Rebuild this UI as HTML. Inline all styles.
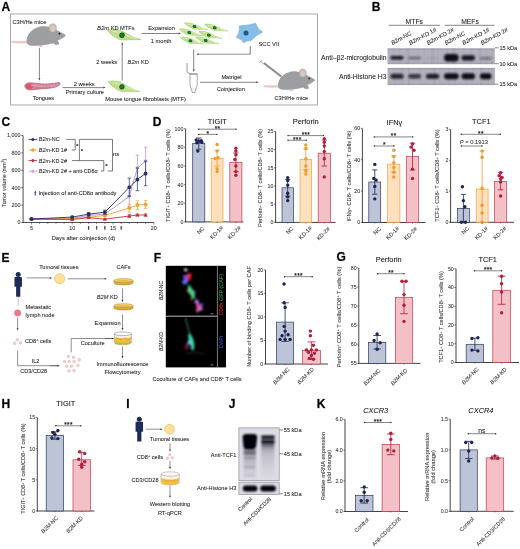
<!DOCTYPE html>
<html><head><meta charset="utf-8"><title>Figure</title>
<style>
html,body{margin:0;padding:0;background:#fff;}
body{width:520px;height:549px;overflow:hidden;}
svg{display:block;font-family:"Liberation Sans", Arial, sans-serif;}
text{stroke:currentColor;stroke-width:0.14px;stroke-opacity:0.45;}
</style></head>
<body>
<svg width="520" height="549" viewBox="0 0 520 549">
<rect width="520" height="549" fill="#fff"/>
<text x="1.5" y="10.5" font-size="12" font-weight="bold" fill="#000" color="#000" style="stroke-width:0.35px;stroke-opacity:0.6">A</text>
<rect x="10.5" y="14.0" width="307.0" height="91.0" fill="none" stroke="#aaa" stroke-width="1.0"/>
<g transform="translate(44.5 36.2) scale(1.08)"><path d="M-15,6.2 C-22,6.6 -28,6.4 -30.5,5.6 C-31,4.9 -30,4.4 -28.5,4.6 C-24,5 -19,5 -15,4.2 Z" fill="#f0d2cf" stroke="#dcb4b0" stroke-width="0.5"/><path d="M-16,6.5 C-18,-3 -8,-9.5 0,-9 C6,-8.7 10,-6 13,-4.5 C16,-3 18.5,-1.8 19.6,-0.8 C18.5,1 15,2.5 12,4 L13.5,7.3 L10.5,8 L8,6.3 C2,8 -6,9 -12,8.5 C-14,8.3 -15.5,7.5 -16,6.5 Z" fill="#9c9ea2" stroke="#8c8e92" stroke-width="0.4"/><path d="M-6,8.6 L-4.5,10 L-1.5,9.6 L-2.5,8.4 Z" fill="#d9bdb6"/><ellipse cx="7.6" cy="-7.6" rx="3.5" ry="4" fill="#c9bcb6" stroke="#aaa0a0" stroke-width="0.4"/><ellipse cx="7.8" cy="-7.2" rx="2" ry="2.6" fill="#d8cac4"/><circle cx="13.9" cy="-2.3" r="0.9" fill="#222"/></g>
<text x="12.5" y="23.8" font-size="5.7" fill="#222" color="#222">C3H/He mice</text>
<line x1="39.4" y1="48.0" x2="39.4" y2="78.3" stroke="#333" stroke-width="0.6"/>
<polygon points="39.4,80.5 38.4,78.3 40.4,78.3" fill="#333"/>
<path d="M24.8,86.3 C24.6,83.4 27.5,82.7 31,82.8 C35,82.9 38,83.6 42,83.9 C48,84.2 54,83.6 58,82.6 C59.8,82.2 60.6,83.0 59.8,84.3 C58,87.0 53,88.0 47,88.4 C41,88.8 36,89.3 32,89.9 C28,90.4 25,88.8 24.8,86.3 Z" fill="#d68a9d" stroke="#b24a66" stroke-width="0.6"/>
<ellipse cx="29.2" cy="86.4" rx="3.5" ry="2.6" fill="#d83a58" opacity="0.65"/>
<path d="M31,85.6 C36,85.4 40,86.2 45,86.3 C50,86.4 54,85.6 57.5,84.3" fill="none" stroke="#f2d0d8" stroke-width="0.8" stroke-dasharray="2,1.2" opacity="0.8"/>
<path d="M33,87.8 C38,87.6 44,87.4 50,86.9" fill="none" stroke="#c05a74" stroke-width="0.5" opacity="0.6"/>
<text x="43.4" y="99.7" font-size="5.7" text-anchor="middle" fill="#222" color="#222">Tongues</text>
<line x1="62.4" y1="87.6" x2="103.3" y2="87.6" stroke="#333" stroke-width="0.6"/>
<polygon points="105.5,87.6 103.3,88.6 103.3,86.6" fill="#333"/>
<text x="84.2" y="85.5" font-size="5.7" text-anchor="middle" fill="#222" color="#222">2 weeks</text>
<text x="84.9" y="94.3" font-size="5.7" text-anchor="middle" fill="#222" color="#222">Primary culture</text>
<g transform="translate(121.9 86.9) rotate(12) scale(1.0 1.0)"><path d="M-14.5,-2.2 C-11,-4.2 -5,-5.2 0,-3.6 C4,-2.6 7,-1.2 11,-0.2 C13.5,0.3 16,0.6 18.5,0.8 C15,1.8 11,2.2 7,3 C3,4.4 -1,5 -4,3.6 C-8,2.2 -11,0.6 -14.5,-2.2 Z" fill="#bde08c" stroke="#9ccc6a" stroke-width="0.6"/><path d="M-10,-1.5 C-6,-2.8 -1,-2.8 3,-1.2 C7,0 11,0.5 15,0.8" fill="none" stroke="#e0ecb0" stroke-width="1.2" opacity="0.8"/><circle cx="0" cy="0" r="2.6" fill="#10501c"/><circle cx="0" cy="0" r="1.9" fill="#1b7a2e"/></g>
<text x="105.3" y="101.0" font-size="5.7" fill="#222" color="#222">Mouse tongue fibroblasts (MTF)</text>
<line x1="122.2" y1="80.5" x2="122.2" y2="44.5" stroke="#333" stroke-width="0.6"/>
<polygon points="122.2,42.3 123.2,44.5 121.2,44.5" fill="#333"/>
<text x="117.2" y="63.8" font-size="5.7" text-anchor="end" fill="#222" color="#222">2 weeks</text>
<text x="127.6" y="63.8" font-size="5.7" fill="#222" color="#222"><tspan font-style="italic">B2m</tspan> KD</text>
<g transform="translate(122 35.3) rotate(10) scale(1.05 1.05)"><path d="M-14.5,-2.2 C-11,-4.2 -5,-5.2 0,-3.6 C4,-2.6 7,-1.2 11,-0.2 C13.5,0.3 16,0.6 18.5,0.8 C15,1.8 11,2.2 7,3 C3,4.4 -1,5 -4,3.6 C-8,2.2 -11,0.6 -14.5,-2.2 Z" fill="#bde08c" stroke="#9ccc6a" stroke-width="0.6"/><path d="M-10,-1.5 C-6,-2.8 -1,-2.8 3,-1.2 C7,0 11,0.5 15,0.8" fill="none" stroke="#e0ecb0" stroke-width="1.2" opacity="0.8"/><circle cx="0" cy="0" r="2.6" fill="#10501c"/><circle cx="0" cy="0" r="1.9" fill="#1b7a2e"/></g>
<text x="116.0" y="29.5" font-size="5.7" text-anchor="middle" fill="#222" color="#222"><tspan font-style="italic">B2m</tspan> KD MTFs</text>
<line x1="141.7" y1="33.5" x2="178.6" y2="33.5" stroke="#333" stroke-width="0.6"/>
<polygon points="180.8,33.5 178.6,34.5 178.6,32.5" fill="#333"/>
<text x="161.6" y="29.8" font-size="5.7" text-anchor="middle" fill="#222" color="#222">Expansion</text>
<text x="161.1" y="43.3" font-size="5.7" text-anchor="middle" fill="#222" color="#222">1 month</text>
<g transform="translate(194.5 26.5) rotate(12) scale(0.74 0.5772)"><path d="M-14.5,-2.2 C-11,-4.2 -5,-5.2 0,-3.6 C4,-2.6 7,-1.2 11,-0.2 C13.5,0.3 16,0.6 18.5,0.8 C15,1.8 11,2.2 7,3 C3,4.4 -1,5 -4,3.6 C-8,2.2 -11,0.6 -14.5,-2.2 Z" fill="#bde08c" stroke="#9ccc6a" stroke-width="0.6"/><path d="M-10,-1.5 C-6,-2.8 -1,-2.8 3,-1.2 C7,0 11,0.5 15,0.8" fill="none" stroke="#e0ecb0" stroke-width="1.2" opacity="0.8"/><circle cx="0" cy="0" r="2.6" fill="#10501c"/><circle cx="0" cy="0" r="1.9" fill="#1b7a2e"/></g>
<g transform="translate(214.7 27.8) rotate(12) scale(0.74 0.5772)"><path d="M-14.5,-2.2 C-11,-4.2 -5,-5.2 0,-3.6 C4,-2.6 7,-1.2 11,-0.2 C13.5,0.3 16,0.6 18.5,0.8 C15,1.8 11,2.2 7,3 C3,4.4 -1,5 -4,3.6 C-8,2.2 -11,0.6 -14.5,-2.2 Z" fill="#bde08c" stroke="#9ccc6a" stroke-width="0.6"/><path d="M-10,-1.5 C-6,-2.8 -1,-2.8 3,-1.2 C7,0 11,0.5 15,0.8" fill="none" stroke="#e0ecb0" stroke-width="1.2" opacity="0.8"/><circle cx="0" cy="0" r="2.6" fill="#10501c"/><circle cx="0" cy="0" r="1.9" fill="#1b7a2e"/></g>
<g transform="translate(189.3 32.5) rotate(12) scale(0.74 0.5772)"><path d="M-14.5,-2.2 C-11,-4.2 -5,-5.2 0,-3.6 C4,-2.6 7,-1.2 11,-0.2 C13.5,0.3 16,0.6 18.5,0.8 C15,1.8 11,2.2 7,3 C3,4.4 -1,5 -4,3.6 C-8,2.2 -11,0.6 -14.5,-2.2 Z" fill="#bde08c" stroke="#9ccc6a" stroke-width="0.6"/><path d="M-10,-1.5 C-6,-2.8 -1,-2.8 3,-1.2 C7,0 11,0.5 15,0.8" fill="none" stroke="#e0ecb0" stroke-width="1.2" opacity="0.8"/><circle cx="0" cy="0" r="2.6" fill="#10501c"/><circle cx="0" cy="0" r="1.9" fill="#1b7a2e"/></g>
<g transform="translate(208.9 35.1) rotate(12) scale(0.74 0.5772)"><path d="M-14.5,-2.2 C-11,-4.2 -5,-5.2 0,-3.6 C4,-2.6 7,-1.2 11,-0.2 C13.5,0.3 16,0.6 18.5,0.8 C15,1.8 11,2.2 7,3 C3,4.4 -1,5 -4,3.6 C-8,2.2 -11,0.6 -14.5,-2.2 Z" fill="#bde08c" stroke="#9ccc6a" stroke-width="0.6"/><path d="M-10,-1.5 C-6,-2.8 -1,-2.8 3,-1.2 C7,0 11,0.5 15,0.8" fill="none" stroke="#e0ecb0" stroke-width="1.2" opacity="0.8"/><circle cx="0" cy="0" r="2.6" fill="#10501c"/><circle cx="0" cy="0" r="1.9" fill="#1b7a2e"/></g>
<g transform="translate(190.5 40.8) rotate(12) scale(0.74 0.5772)"><path d="M-14.5,-2.2 C-11,-4.2 -5,-5.2 0,-3.6 C4,-2.6 7,-1.2 11,-0.2 C13.5,0.3 16,0.6 18.5,0.8 C15,1.8 11,2.2 7,3 C3,4.4 -1,5 -4,3.6 C-8,2.2 -11,0.6 -14.5,-2.2 Z" fill="#bde08c" stroke="#9ccc6a" stroke-width="0.6"/><path d="M-10,-1.5 C-6,-2.8 -1,-2.8 3,-1.2 C7,0 11,0.5 15,0.8" fill="none" stroke="#e0ecb0" stroke-width="1.2" opacity="0.8"/><circle cx="0" cy="0" r="2.6" fill="#10501c"/><circle cx="0" cy="0" r="1.9" fill="#1b7a2e"/></g>
<g transform="translate(205.7 40.5) rotate(12) scale(0.74 0.5772)"><path d="M-14.5,-2.2 C-11,-4.2 -5,-5.2 0,-3.6 C4,-2.6 7,-1.2 11,-0.2 C13.5,0.3 16,0.6 18.5,0.8 C15,1.8 11,2.2 7,3 C3,4.4 -1,5 -4,3.6 C-8,2.2 -11,0.6 -14.5,-2.2 Z" fill="#bde08c" stroke="#9ccc6a" stroke-width="0.6"/><path d="M-10,-1.5 C-6,-2.8 -1,-2.8 3,-1.2 C7,0 11,0.5 15,0.8" fill="none" stroke="#e0ecb0" stroke-width="1.2" opacity="0.8"/><circle cx="0" cy="0" r="2.6" fill="#10501c"/><circle cx="0" cy="0" r="1.9" fill="#1b7a2e"/></g>
<path d="M239.4,26 Q247.7,25.4 255.8,23.4 Q256.9,28.9 262.5,32.1 Q255.0,35.6 251,40.6 Q247.6,39.8 243.5,42.8 Q242.0,38.6 236.5,37.6 Q240.4,32.1 239.4,26 Z" fill="#86bfe6" stroke="#5d9fd2" stroke-width="0.6"/>
<circle cx="246.0" cy="33.0" r="2.5" fill="#1a5894" stroke="none" stroke-width="0.5"/>
<text x="258.5" y="46.0" font-size="5.7" fill="#222" color="#222">SCC VII</text>
<line x1="250.2" y1="46.2" x2="250.2" y2="54.2" stroke="#666" stroke-width="0.9"/>
<line x1="250.6" y1="54.2" x2="198.7" y2="54.2" stroke="#444" stroke-width="0.6"/>
<polygon points="196.5,54.2 198.7,53.2 198.7,55.2" fill="#444"/>
<line x1="193.7" y1="49.5" x2="193.7" y2="69.6" stroke="#333" stroke-width="0.6"/>
<polygon points="193.7,71.8 192.7,69.6 194.7,69.6" fill="#333"/>
<path d="M190,74 L197.2,74 L197.2,85 L194.8,92.6 L192.4,92.6 L190,85 Z" fill="#fff" stroke="#555" stroke-width="0.5"/>
<line x1="189.6" y1="74.0" x2="197.6" y2="74.0" stroke="#555" stroke-width="0.6"/>
<path d="M187,63 L187,71 Q187,73 190,73.8" fill="none" stroke="#555" stroke-width="0.6"/>
<line x1="190.5" y1="89.0" x2="196.7" y2="89.0" stroke="#aaa" stroke-width="0.4"/>
<line x1="200.0" y1="82.3" x2="256.3" y2="82.3" stroke="#333" stroke-width="0.6"/>
<polygon points="258.5,82.3 256.3,83.3 256.3,81.3" fill="#333"/>
<text x="231.5" y="78.6" font-size="5.7" text-anchor="middle" fill="#222" color="#222">Matrigel</text>
<text x="230.8" y="91.2" font-size="5.7" text-anchor="middle" fill="#222" color="#222">Coinjection</text>
<g stroke="#555" stroke-width="0.5" fill="none"><line x1="260.6" y1="61.5" x2="285" y2="80.3"/><line x1="264" y1="62.8" x2="281.5" y2="76.3" stroke-width="1.6" stroke="#888"/><line x1="259.3" y1="62.8" x2="262" y2="60.2"/></g>
<g transform="translate(295 80.8) scale(1.02)"><path d="M-15,6.2 C-22,6.6 -28,6.4 -30.5,5.6 C-31,4.9 -30,4.4 -28.5,4.6 C-24,5 -19,5 -15,4.2 Z" fill="#f0d2cf" stroke="#dcb4b0" stroke-width="0.5"/><path d="M-16,6.5 C-18,-3 -8,-9.5 0,-9 C6,-8.7 10,-6 13,-4.5 C16,-3 18.5,-1.8 19.6,-0.8 C18.5,1 15,2.5 12,4 L13.5,7.3 L10.5,8 L8,6.3 C2,8 -6,9 -12,8.5 C-14,8.3 -15.5,7.5 -16,6.5 Z" fill="#9c9ea2" stroke="#8c8e92" stroke-width="0.4"/><path d="M-6,8.6 L-4.5,10 L-1.5,9.6 L-2.5,8.4 Z" fill="#d9bdb6"/><ellipse cx="7.6" cy="-7.6" rx="3.5" ry="4" fill="#c9bcb6" stroke="#aaa0a0" stroke-width="0.4"/><ellipse cx="7.8" cy="-7.2" rx="2" ry="2.6" fill="#d8cac4"/><circle cx="13.9" cy="-2.3" r="0.9" fill="#222"/></g>
<text x="291.3" y="99.9" font-size="5.7" text-anchor="middle" fill="#222" color="#222">C3H/He mice</text>
<text x="371.8" y="11.3" font-size="12" font-weight="bold" fill="#000" color="#000" style="stroke-width:0.35px;stroke-opacity:0.6">B</text>
<text x="414.3" y="23.5" font-size="6.8" text-anchor="middle" fill="#222" color="#222">MTFs</text>
<text x="470.0" y="23.5" font-size="6.8" text-anchor="middle" fill="#222" color="#222">MEFs</text>
<line x1="388.7" y1="25.3" x2="440.0" y2="25.3" stroke="#666" stroke-width="0.8"/>
<line x1="444.6" y1="25.3" x2="494.5" y2="25.3" stroke="#666" stroke-width="0.8"/>
<text x="392.4" y="45.0" font-size="5.8" fill="#222" color="#222" transform="rotate(-28 392.4 45.0)"><tspan font-style="italic">B2m</tspan>-NC</text>
<text x="410.3" y="45.0" font-size="5.8" fill="#222" color="#222" transform="rotate(-28 410.3 45.0)"><tspan font-style="italic">B2m</tspan>-KD 1#</text>
<text x="428.0" y="45.0" font-size="5.8" fill="#222" color="#222" transform="rotate(-28 428.0 45.0)"><tspan font-style="italic">B2m</tspan>-KD 2#</text>
<text x="446.0" y="45.0" font-size="5.8" fill="#222" color="#222" transform="rotate(-28 446.0 45.0)"><tspan font-style="italic">B2m</tspan>-NC</text>
<text x="463.5" y="45.0" font-size="5.8" fill="#222" color="#222" transform="rotate(-28 463.5 45.0)"><tspan font-style="italic">B2m</tspan>-KD 1#</text>
<text x="482.0" y="45.0" font-size="5.8" fill="#222" color="#222" transform="rotate(-28 482.0 45.0)"><tspan font-style="italic">B2m</tspan>-KD 2#</text>
<defs><linearGradient id="blotB" x1="0" x2="0" y1="0" y2="1"><stop offset="0" stop-color="#9c9aa6"/><stop offset="0.15" stop-color="#b3b1bd"/><stop offset="0.85" stop-color="#b1afbb"/><stop offset="1" stop-color="#9e9ca8"/></linearGradient><filter id="blur06" x="-20%" y="-50%" width="140%" height="200%"><feGaussianBlur stdDeviation="0.7"/></filter><filter id="blur1" x="-20%" y="-50%" width="140%" height="200%"><feGaussianBlur stdDeviation="1.0"/></filter></defs>
<rect x="387.5" y="48.3" width="107.3" height="15.9" fill="url(#blotB)" stroke="none" stroke-width="0.6"/>
<rect x="387.5" y="67.9" width="107.3" height="17.2" fill="url(#blotB)" stroke="none" stroke-width="0.6"/>
<rect x="392" y="48.3" width="1.5" height="15.9" fill="#606070" opacity="0.03"/>
<rect x="394" y="67.9" width="1.5" height="17.2" fill="#606070" opacity="0.03"/>
<rect x="399" y="48.3" width="2.5" height="15.9" fill="#606070" opacity="0.06"/>
<rect x="401" y="67.9" width="2.5" height="17.2" fill="#606070" opacity="0.06"/>
<rect x="406" y="48.3" width="3.5" height="15.9" fill="#606070" opacity="0.09"/>
<rect x="408" y="67.9" width="1.5" height="17.2" fill="#606070" opacity="0.09"/>
<rect x="417" y="48.3" width="1.5" height="15.9" fill="#606070" opacity="0.03"/>
<rect x="419" y="67.9" width="2.5" height="17.2" fill="#606070" opacity="0.03"/>
<rect x="423" y="48.3" width="2.5" height="15.9" fill="#606070" opacity="0.06"/>
<rect x="425" y="67.9" width="1.5" height="17.2" fill="#606070" opacity="0.06"/>
<rect x="431" y="48.3" width="3.5" height="15.9" fill="#606070" opacity="0.09"/>
<rect x="433" y="67.9" width="2.5" height="17.2" fill="#606070" opacity="0.09"/>
<rect x="437" y="48.3" width="1.5" height="15.9" fill="#606070" opacity="0.03"/>
<rect x="439" y="67.9" width="1.5" height="17.2" fill="#606070" opacity="0.03"/>
<rect x="446" y="48.3" width="2.5" height="15.9" fill="#606070" opacity="0.06"/>
<rect x="448" y="67.9" width="2.5" height="17.2" fill="#606070" opacity="0.06"/>
<rect x="452" y="48.3" width="3.5" height="15.9" fill="#606070" opacity="0.09"/>
<rect x="454" y="67.9" width="1.5" height="17.2" fill="#606070" opacity="0.09"/>
<rect x="463" y="48.3" width="1.5" height="15.9" fill="#606070" opacity="0.03"/>
<rect x="465" y="67.9" width="2.5" height="17.2" fill="#606070" opacity="0.03"/>
<rect x="470" y="48.3" width="2.5" height="15.9" fill="#606070" opacity="0.06"/>
<rect x="472" y="67.9" width="1.5" height="17.2" fill="#606070" opacity="0.06"/>
<rect x="478" y="48.3" width="3.5" height="15.9" fill="#606070" opacity="0.09"/>
<rect x="480" y="67.9" width="2.5" height="17.2" fill="#606070" opacity="0.09"/>
<rect x="486" y="48.3" width="1.5" height="15.9" fill="#606070" opacity="0.03"/>
<rect x="488" y="67.9" width="1.5" height="17.2" fill="#606070" opacity="0.03"/>
<rect x="491" y="48.3" width="2.5" height="15.9" fill="#606070" opacity="0.06"/>
<rect x="493" y="67.9" width="2.5" height="17.2" fill="#606070" opacity="0.06"/>
<rect x="390.4" y="56.1" width="13.2" height="3.4" rx="1.7" fill="#0c0a18" opacity="0.95" filter="url(#blur1)"/>
<rect x="408.3" y="56.7" width="12.7" height="2.6" rx="1.3" fill="#0c0a18" opacity="0.45" filter="url(#blur1)"/>
<rect x="426.0" y="57.0" width="13.2" height="2.0" rx="1.0" fill="#0c0a18" opacity="0.08" filter="url(#blur1)"/>
<rect x="444.0" y="54.1" width="14.7" height="7.4" rx="3.7" fill="#0c0a18" opacity="1.0" filter="url(#blur1)"/>
<rect x="461.5" y="55.2" width="13.5" height="5.2" rx="2.6" fill="#0c0a18" opacity="0.95" filter="url(#blur1)"/>
<rect x="480.0" y="56.9" width="11.5" height="2.6" rx="1.3" fill="#0c0a18" opacity="0.4" filter="url(#blur1)"/>
<rect x="390.4" y="73.7" width="13.2" height="5.0" rx="2.5" fill="#0c0a18" opacity="0.85" filter="url(#blur1)"/>
<rect x="408.3" y="73.9" width="12.7" height="4.6" rx="2.3" fill="#0c0a18" opacity="0.75" filter="url(#blur1)"/>
<rect x="426.0" y="73.7" width="13.2" height="5.0" rx="2.5" fill="#0c0a18" opacity="0.9" filter="url(#blur1)"/>
<rect x="444.0" y="73.2" width="14.7" height="6.0" rx="3.0" fill="#0c0a18" opacity="1.0" filter="url(#blur1)"/>
<rect x="461.5" y="73.2" width="13.5" height="6.0" rx="3.0" fill="#0c0a18" opacity="1.0" filter="url(#blur1)"/>
<rect x="480.0" y="73.2" width="11.5" height="6.0" rx="3.0" fill="#0c0a18" opacity="1.0" filter="url(#blur1)"/>
<text x="386.5" y="60.2" font-size="6.8" text-anchor="end" fill="#222" color="#222">Anti–β2-microglobulin</text>
<text x="386.5" y="78.5" font-size="6.8" text-anchor="end" fill="#222" color="#222">Anti-Histone H3</text>
<line x1="494.8" y1="47.8" x2="498.5" y2="47.8" stroke="#333" stroke-width="0.6"/>
<text x="499.5" y="49.8" font-size="5.6" fill="#222" color="#222">15 kDa</text>
<line x1="494.8" y1="63.7" x2="498.5" y2="63.7" stroke="#333" stroke-width="0.6"/>
<text x="499.5" y="65.7" font-size="5.6" fill="#222" color="#222">10 kDa</text>
<line x1="494.8" y1="84.2" x2="498.5" y2="84.2" stroke="#333" stroke-width="0.6"/>
<text x="499.5" y="86.2" font-size="5.6" fill="#222" color="#222">15 kDa</text>
<text x="1.5" y="125.5" font-size="12" font-weight="bold" fill="#000" color="#000" style="stroke-width:0.35px;stroke-opacity:0.6">C</text>
<line x1="23.1" y1="135.5" x2="23.1" y2="222.8" stroke="#222" stroke-width="0.8"/>
<line x1="22.8" y1="222.5" x2="153.8" y2="222.5" stroke="#222" stroke-width="0.8"/>
<line x1="21.2" y1="222.5" x2="23.1" y2="222.5" stroke="#222" stroke-width="0.6"/>
<text x="20.6" y="224.4" font-size="5.4" text-anchor="end" fill="#333" color="#333">0</text>
<line x1="21.2" y1="205.1" x2="23.1" y2="205.1" stroke="#222" stroke-width="0.6"/>
<text x="20.6" y="207.0" font-size="5.4" text-anchor="end" fill="#333" color="#333">200</text>
<line x1="21.2" y1="187.7" x2="23.1" y2="187.7" stroke="#222" stroke-width="0.6"/>
<text x="20.6" y="189.6" font-size="5.4" text-anchor="end" fill="#333" color="#333">400</text>
<line x1="21.2" y1="170.3" x2="23.1" y2="170.3" stroke="#222" stroke-width="0.6"/>
<text x="20.6" y="172.2" font-size="5.4" text-anchor="end" fill="#333" color="#333">600</text>
<line x1="21.2" y1="152.9" x2="23.1" y2="152.9" stroke="#222" stroke-width="0.6"/>
<text x="20.6" y="154.8" font-size="5.4" text-anchor="end" fill="#333" color="#333">800</text>
<line x1="21.2" y1="135.5" x2="23.1" y2="135.5" stroke="#222" stroke-width="0.6"/>
<text x="20.6" y="137.4" font-size="5.4" text-anchor="end" fill="#333" color="#333">1,000</text>
<line x1="31.5" y1="222.5" x2="31.5" y2="224.5" stroke="#222" stroke-width="0.5"/>
<line x1="39.6" y1="222.5" x2="39.6" y2="224.0" stroke="#222" stroke-width="0.5"/>
<line x1="47.8" y1="222.5" x2="47.8" y2="224.0" stroke="#222" stroke-width="0.5"/>
<line x1="56.0" y1="222.5" x2="56.0" y2="224.0" stroke="#222" stroke-width="0.5"/>
<line x1="64.1" y1="222.5" x2="64.1" y2="224.0" stroke="#222" stroke-width="0.5"/>
<line x1="72.2" y1="222.5" x2="72.2" y2="224.5" stroke="#222" stroke-width="0.5"/>
<line x1="80.4" y1="222.5" x2="80.4" y2="224.0" stroke="#222" stroke-width="0.5"/>
<line x1="88.6" y1="222.5" x2="88.6" y2="224.0" stroke="#222" stroke-width="0.5"/>
<line x1="96.7" y1="222.5" x2="96.7" y2="224.0" stroke="#222" stroke-width="0.5"/>
<line x1="104.9" y1="222.5" x2="104.9" y2="224.0" stroke="#222" stroke-width="0.5"/>
<line x1="113.0" y1="222.5" x2="113.0" y2="224.5" stroke="#222" stroke-width="0.5"/>
<line x1="121.2" y1="222.5" x2="121.2" y2="224.0" stroke="#222" stroke-width="0.5"/>
<line x1="129.3" y1="222.5" x2="129.3" y2="224.0" stroke="#222" stroke-width="0.5"/>
<line x1="137.4" y1="222.5" x2="137.4" y2="224.0" stroke="#222" stroke-width="0.5"/>
<line x1="145.6" y1="222.5" x2="145.6" y2="224.0" stroke="#222" stroke-width="0.5"/>
<line x1="153.8" y1="222.5" x2="153.8" y2="224.5" stroke="#222" stroke-width="0.5"/>
<text x="31.5" y="230.3" font-size="5.4" text-anchor="middle" fill="#333" color="#333">5</text>
<text x="72.2" y="230.3" font-size="5.4" text-anchor="middle" fill="#333" color="#333">10</text>
<text x="113.0" y="230.3" font-size="5.4" text-anchor="middle" fill="#333" color="#333">15</text>
<text x="153.8" y="230.3" font-size="5.4" text-anchor="middle" fill="#333" color="#333">20</text>
<text x="5.6" y="183.0" font-size="5.2" text-anchor="middle" fill="#333" color="#333" transform="rotate(-90 5.6 183.0)">Tumor volume (mm<tspan font-size="70%" dy="-1.6">3</tspan><tspan dy="1.6">)</tspan></text>
<text x="83.5" y="239.8" font-size="5.75" text-anchor="middle" fill="#222" color="#222">Days after coinjection (d)</text>
<path d="M88.6,225.4 L87.6,227.4 L88.0,227.4 L88.0,229.8 L89.1,229.8 L89.1,227.4 L89.6,227.4 Z" fill="#34306e"/>
<path d="M96.7,225.4 L95.7,227.4 L96.2,227.4 L96.2,229.8 L97.2,229.8 L97.2,227.4 L97.7,227.4 Z" fill="#34306e"/>
<path d="M104.9,225.4 L103.9,227.4 L104.3,227.4 L104.3,229.8 L105.4,229.8 L105.4,227.4 L105.9,227.4 Z" fill="#34306e"/>
<path d="M121.2,225.4 L120.2,227.4 L120.6,227.4 L120.6,229.8 L121.7,229.8 L121.7,227.4 L122.2,227.4 Z" fill="#34306e"/>
<polyline points="31.5,219.0 72.2,218.3 88.6,215.5 104.9,214.2 129.3,196.4 137.4,168.1 145.6,161.2" fill="none" stroke="#b48ad6" stroke-width="0.9"/>
<line x1="31.5" y1="218.6" x2="31.5" y2="219.5" stroke="#b48ad6" stroke-width="0.7"/>
<line x1="29.7" y1="218.6" x2="33.3" y2="218.6" stroke="#b48ad6" stroke-width="0.7"/>
<line x1="29.7" y1="219.5" x2="33.3" y2="219.5" stroke="#b48ad6" stroke-width="0.7"/>
<path d="M31.5,221.0 L33.5,217.6 L29.5,217.6 Z" fill="#b48ad6"/>
<line x1="72.2" y1="217.6" x2="72.2" y2="219.0" stroke="#b48ad6" stroke-width="0.7"/>
<line x1="70.5" y1="217.6" x2="74.0" y2="217.6" stroke="#b48ad6" stroke-width="0.7"/>
<line x1="70.5" y1="219.0" x2="74.0" y2="219.0" stroke="#b48ad6" stroke-width="0.7"/>
<path d="M72.2,220.3 L74.2,216.9 L70.2,216.9 Z" fill="#b48ad6"/>
<line x1="88.6" y1="214.2" x2="88.6" y2="216.8" stroke="#b48ad6" stroke-width="0.7"/>
<line x1="86.8" y1="214.2" x2="90.4" y2="214.2" stroke="#b48ad6" stroke-width="0.7"/>
<line x1="86.8" y1="216.8" x2="90.4" y2="216.8" stroke="#b48ad6" stroke-width="0.7"/>
<path d="M88.6,217.5 L90.6,214.1 L86.6,214.1 Z" fill="#b48ad6"/>
<line x1="104.9" y1="212.5" x2="104.9" y2="216.0" stroke="#b48ad6" stroke-width="0.7"/>
<line x1="103.1" y1="212.5" x2="106.7" y2="212.5" stroke="#b48ad6" stroke-width="0.7"/>
<line x1="103.1" y1="216.0" x2="106.7" y2="216.0" stroke="#b48ad6" stroke-width="0.7"/>
<path d="M104.9,216.2 L106.9,212.8 L102.9,212.8 Z" fill="#b48ad6"/>
<line x1="129.3" y1="186.0" x2="129.3" y2="206.8" stroke="#b48ad6" stroke-width="0.7"/>
<line x1="127.5" y1="186.0" x2="131.1" y2="186.0" stroke="#b48ad6" stroke-width="0.7"/>
<line x1="127.5" y1="206.8" x2="131.1" y2="206.8" stroke="#b48ad6" stroke-width="0.7"/>
<path d="M129.3,198.4 L131.3,195.0 L127.3,195.0 Z" fill="#b48ad6"/>
<line x1="137.4" y1="155.1" x2="137.4" y2="181.2" stroke="#b48ad6" stroke-width="0.7"/>
<line x1="135.6" y1="155.1" x2="139.2" y2="155.1" stroke="#b48ad6" stroke-width="0.7"/>
<line x1="135.6" y1="181.2" x2="139.2" y2="181.2" stroke="#b48ad6" stroke-width="0.7"/>
<path d="M137.4,170.1 L139.4,166.7 L135.4,166.7 Z" fill="#b48ad6"/>
<line x1="145.6" y1="147.2" x2="145.6" y2="175.1" stroke="#b48ad6" stroke-width="0.7"/>
<line x1="143.8" y1="147.2" x2="147.4" y2="147.2" stroke="#b48ad6" stroke-width="0.7"/>
<line x1="143.8" y1="175.1" x2="147.4" y2="175.1" stroke="#b48ad6" stroke-width="0.7"/>
<path d="M145.6,163.2 L147.6,159.8 L143.6,159.8 Z" fill="#b48ad6"/>
<polyline points="31.5,219.0 72.2,218.6 88.6,217.3 104.9,215.4 129.3,208.1 137.4,205.1 145.6,204.5" fill="none" stroke="#f3a22c" stroke-width="0.9"/>
<line x1="31.5" y1="218.6" x2="31.5" y2="219.5" stroke="#f3a22c" stroke-width="0.7"/>
<line x1="29.7" y1="218.6" x2="33.3" y2="218.6" stroke="#f3a22c" stroke-width="0.7"/>
<line x1="29.7" y1="219.5" x2="33.3" y2="219.5" stroke="#f3a22c" stroke-width="0.7"/>
<circle cx="31.5" cy="219.0" r="2.0" fill="#f3a22c" stroke="none" stroke-width="0.5"/>
<line x1="72.2" y1="217.9" x2="72.2" y2="219.3" stroke="#f3a22c" stroke-width="0.7"/>
<line x1="70.5" y1="217.9" x2="74.0" y2="217.9" stroke="#f3a22c" stroke-width="0.7"/>
<line x1="70.5" y1="219.3" x2="74.0" y2="219.3" stroke="#f3a22c" stroke-width="0.7"/>
<circle cx="72.2" cy="218.6" r="2.0" fill="#f3a22c" stroke="none" stroke-width="0.5"/>
<line x1="88.6" y1="216.4" x2="88.6" y2="218.2" stroke="#f3a22c" stroke-width="0.7"/>
<line x1="86.8" y1="216.4" x2="90.4" y2="216.4" stroke="#f3a22c" stroke-width="0.7"/>
<line x1="86.8" y1="218.2" x2="90.4" y2="218.2" stroke="#f3a22c" stroke-width="0.7"/>
<circle cx="88.6" cy="217.3" r="2.0" fill="#f3a22c" stroke="none" stroke-width="0.5"/>
<line x1="104.9" y1="214.3" x2="104.9" y2="216.4" stroke="#f3a22c" stroke-width="0.7"/>
<line x1="103.1" y1="214.3" x2="106.7" y2="214.3" stroke="#f3a22c" stroke-width="0.7"/>
<line x1="103.1" y1="216.4" x2="106.7" y2="216.4" stroke="#f3a22c" stroke-width="0.7"/>
<circle cx="104.9" cy="215.4" r="2.0" fill="#f3a22c" stroke="none" stroke-width="0.5"/>
<line x1="129.3" y1="204.2" x2="129.3" y2="212.1" stroke="#f3a22c" stroke-width="0.7"/>
<line x1="127.5" y1="204.2" x2="131.1" y2="204.2" stroke="#f3a22c" stroke-width="0.7"/>
<line x1="127.5" y1="212.1" x2="131.1" y2="212.1" stroke="#f3a22c" stroke-width="0.7"/>
<circle cx="129.3" cy="208.1" r="2.0" fill="#f3a22c" stroke="none" stroke-width="0.5"/>
<line x1="137.4" y1="200.8" x2="137.4" y2="209.4" stroke="#f3a22c" stroke-width="0.7"/>
<line x1="135.6" y1="200.8" x2="139.2" y2="200.8" stroke="#f3a22c" stroke-width="0.7"/>
<line x1="135.6" y1="209.4" x2="139.2" y2="209.4" stroke="#f3a22c" stroke-width="0.7"/>
<circle cx="137.4" cy="205.1" r="2.0" fill="#f3a22c" stroke="none" stroke-width="0.5"/>
<line x1="145.6" y1="200.6" x2="145.6" y2="208.4" stroke="#f3a22c" stroke-width="0.7"/>
<line x1="143.8" y1="200.6" x2="147.4" y2="200.6" stroke="#f3a22c" stroke-width="0.7"/>
<line x1="143.8" y1="208.4" x2="147.4" y2="208.4" stroke="#f3a22c" stroke-width="0.7"/>
<circle cx="145.6" cy="204.5" r="2.0" fill="#f3a22c" stroke="none" stroke-width="0.5"/>
<polyline points="31.5,219.2 72.2,219.5 88.6,217.7 104.9,219.2 129.3,216.0 137.4,215.0 145.6,215.0" fill="none" stroke="#c0303a" stroke-width="0.9"/>
<line x1="31.5" y1="218.8" x2="31.5" y2="219.6" stroke="#c0303a" stroke-width="0.7"/>
<line x1="29.7" y1="218.8" x2="33.3" y2="218.8" stroke="#c0303a" stroke-width="0.7"/>
<line x1="29.7" y1="219.6" x2="33.3" y2="219.6" stroke="#c0303a" stroke-width="0.7"/>
<path d="M31.5,217.2 L33.5,220.6 L29.5,220.6 Z" fill="#c0303a"/>
<line x1="72.2" y1="218.9" x2="72.2" y2="220.0" stroke="#c0303a" stroke-width="0.7"/>
<line x1="70.5" y1="218.9" x2="74.0" y2="218.9" stroke="#c0303a" stroke-width="0.7"/>
<line x1="70.5" y1="220.0" x2="74.0" y2="220.0" stroke="#c0303a" stroke-width="0.7"/>
<path d="M72.2,217.5 L74.2,220.9 L70.2,220.9 Z" fill="#c0303a"/>
<line x1="88.6" y1="217.0" x2="88.6" y2="218.4" stroke="#c0303a" stroke-width="0.7"/>
<line x1="86.8" y1="217.0" x2="90.4" y2="217.0" stroke="#c0303a" stroke-width="0.7"/>
<line x1="86.8" y1="218.4" x2="90.4" y2="218.4" stroke="#c0303a" stroke-width="0.7"/>
<path d="M88.6,215.7 L90.6,219.1 L86.6,219.1 Z" fill="#c0303a"/>
<line x1="104.9" y1="218.5" x2="104.9" y2="219.9" stroke="#c0303a" stroke-width="0.7"/>
<line x1="103.1" y1="218.5" x2="106.7" y2="218.5" stroke="#c0303a" stroke-width="0.7"/>
<line x1="103.1" y1="219.9" x2="106.7" y2="219.9" stroke="#c0303a" stroke-width="0.7"/>
<path d="M104.9,217.2 L106.9,220.6 L102.9,220.6 Z" fill="#c0303a"/>
<line x1="129.3" y1="214.7" x2="129.3" y2="217.3" stroke="#c0303a" stroke-width="0.7"/>
<line x1="127.5" y1="214.7" x2="131.1" y2="214.7" stroke="#c0303a" stroke-width="0.7"/>
<line x1="127.5" y1="217.3" x2="131.1" y2="217.3" stroke="#c0303a" stroke-width="0.7"/>
<path d="M129.3,214.0 L131.3,217.4 L127.3,217.4 Z" fill="#c0303a"/>
<line x1="137.4" y1="214.1" x2="137.4" y2="215.9" stroke="#c0303a" stroke-width="0.7"/>
<line x1="135.6" y1="214.1" x2="139.2" y2="214.1" stroke="#c0303a" stroke-width="0.7"/>
<line x1="135.6" y1="215.9" x2="139.2" y2="215.9" stroke="#c0303a" stroke-width="0.7"/>
<path d="M137.4,213.0 L139.4,216.4 L135.4,216.4 Z" fill="#c0303a"/>
<line x1="145.6" y1="214.0" x2="145.6" y2="216.1" stroke="#c0303a" stroke-width="0.7"/>
<line x1="143.8" y1="214.0" x2="147.4" y2="214.0" stroke="#c0303a" stroke-width="0.7"/>
<line x1="143.8" y1="216.1" x2="147.4" y2="216.1" stroke="#c0303a" stroke-width="0.7"/>
<path d="M145.6,213.0 L147.6,216.4 L143.6,216.4 Z" fill="#c0303a"/>
<polyline points="31.5,219.0 72.2,217.1 88.6,214.2 104.9,212.2 129.3,187.3 137.4,179.4 145.6,173.5" fill="none" stroke="#253168" stroke-width="0.9"/>
<line x1="31.5" y1="218.5" x2="31.5" y2="219.5" stroke="#253168" stroke-width="0.7"/>
<line x1="29.7" y1="218.5" x2="33.3" y2="218.5" stroke="#253168" stroke-width="0.7"/>
<line x1="29.7" y1="219.5" x2="33.3" y2="219.5" stroke="#253168" stroke-width="0.7"/>
<circle cx="31.5" cy="219.0" r="1.9" fill="#253168" stroke="none" stroke-width="0.5"/>
<line x1="72.2" y1="216.2" x2="72.2" y2="218.0" stroke="#253168" stroke-width="0.7"/>
<line x1="70.5" y1="216.2" x2="74.0" y2="216.2" stroke="#253168" stroke-width="0.7"/>
<line x1="70.5" y1="218.0" x2="74.0" y2="218.0" stroke="#253168" stroke-width="0.7"/>
<circle cx="72.2" cy="217.1" r="1.9" fill="#253168" stroke="none" stroke-width="0.5"/>
<line x1="88.6" y1="212.5" x2="88.6" y2="216.0" stroke="#253168" stroke-width="0.7"/>
<line x1="86.8" y1="212.5" x2="90.4" y2="212.5" stroke="#253168" stroke-width="0.7"/>
<line x1="86.8" y1="216.0" x2="90.4" y2="216.0" stroke="#253168" stroke-width="0.7"/>
<circle cx="88.6" cy="214.2" r="1.9" fill="#253168" stroke="none" stroke-width="0.5"/>
<line x1="104.9" y1="210.1" x2="104.9" y2="214.4" stroke="#253168" stroke-width="0.7"/>
<line x1="103.1" y1="210.1" x2="106.7" y2="210.1" stroke="#253168" stroke-width="0.7"/>
<line x1="103.1" y1="214.4" x2="106.7" y2="214.4" stroke="#253168" stroke-width="0.7"/>
<circle cx="104.9" cy="212.2" r="1.9" fill="#253168" stroke="none" stroke-width="0.5"/>
<line x1="129.3" y1="178.1" x2="129.3" y2="196.4" stroke="#253168" stroke-width="0.7"/>
<line x1="127.5" y1="178.1" x2="131.1" y2="178.1" stroke="#253168" stroke-width="0.7"/>
<line x1="127.5" y1="196.4" x2="131.1" y2="196.4" stroke="#253168" stroke-width="0.7"/>
<circle cx="129.3" cy="187.3" r="1.9" fill="#253168" stroke="none" stroke-width="0.5"/>
<line x1="137.4" y1="168.1" x2="137.4" y2="190.7" stroke="#253168" stroke-width="0.7"/>
<line x1="135.6" y1="168.1" x2="139.2" y2="168.1" stroke="#253168" stroke-width="0.7"/>
<line x1="135.6" y1="190.7" x2="139.2" y2="190.7" stroke="#253168" stroke-width="0.7"/>
<circle cx="137.4" cy="179.4" r="1.9" fill="#253168" stroke="none" stroke-width="0.5"/>
<line x1="145.6" y1="161.3" x2="145.6" y2="185.7" stroke="#253168" stroke-width="0.7"/>
<line x1="143.8" y1="161.3" x2="147.4" y2="161.3" stroke="#253168" stroke-width="0.7"/>
<line x1="143.8" y1="185.7" x2="147.4" y2="185.7" stroke="#253168" stroke-width="0.7"/>
<circle cx="145.6" cy="173.5" r="1.9" fill="#253168" stroke="none" stroke-width="0.5"/>
<line x1="28.6" y1="139.4" x2="37.2" y2="139.4" stroke="#253168" stroke-width="0.9"/>
<circle cx="32.9" cy="139.4" r="1.5" fill="#253168" stroke="none" stroke-width="0.5"/>
<text x="38.8" y="141.3" font-size="5.45" fill="#222" color="#222"><tspan font-style="italic">B2m</tspan>-NC</text>
<line x1="28.6" y1="150.0" x2="37.2" y2="150.0" stroke="#f3a22c" stroke-width="0.9"/>
<circle cx="32.9" cy="150.0" r="1.8" fill="#f3a22c" stroke="none" stroke-width="0.5"/>
<text x="38.8" y="151.9" font-size="5.45" fill="#222" color="#222"><tspan font-style="italic">B2m</tspan>-KD 1#</text>
<line x1="28.6" y1="160.6" x2="37.2" y2="160.6" stroke="#c0303a" stroke-width="0.9"/>
<circle cx="32.9" cy="160.6" r="1.5" fill="#c0303a" stroke="none" stroke-width="0.5"/>
<text x="38.8" y="162.5" font-size="5.45" fill="#222" color="#222"><tspan font-style="italic">B2m</tspan>-KD 2#</text>
<line x1="28.6" y1="171.2" x2="37.2" y2="171.2" stroke="#c8a2e6" stroke-width="0.9"/>
<circle cx="32.9" cy="171.2" r="1.5" fill="#c8a2e6" stroke="none" stroke-width="0.5"/>
<text x="38.8" y="173.1" font-size="5.45" fill="#222" color="#222"><tspan font-style="italic">B2m</tspan>-KD 2# + anti-CD8α</text>
<path d="M66.3,139.4 H75.2 V150 H71.9" fill="none" stroke="#444" stroke-width="0.7"/>
<text x="77.2" y="147.6" font-size="6.2" text-anchor="middle" font-weight="bold" fill="#222" color="#222">*</text>
<path d="M79.4,139.4 V160.6 H72" fill="none" stroke="#444" stroke-width="0.7"/>
<text x="82.0" y="152.6" font-size="6.2" text-anchor="middle" font-weight="bold" fill="#222" color="#222">*</text>
<path d="M79.4,139.4 H112.5 V171 H107.7" fill="none" stroke="#444" stroke-width="0.7"/>
<text x="116.2" y="156.3" font-size="6.0" text-anchor="middle" fill="#222" color="#222">ns</text>
<path d="M79.4,160.6 H103.8 V171 H101" fill="none" stroke="#444" stroke-width="0.7"/>
<text x="106.4" y="168.0" font-size="6.2" text-anchor="middle" font-weight="bold" fill="#222" color="#222">*</text>
<path d="M35.3,190.6 L34.2,192.7 L34.75,192.7 L34.75,195.4 L35.85,195.4 L35.85,192.7 L36.4,192.7 Z" fill="#4a3a98"/>
<text x="38.5" y="195.3" font-size="5.7" fill="#222" color="#222">Injection of anti-CD8α antibody</text>
<text x="152.8" y="126.3" font-size="12" font-weight="bold" fill="#000" color="#000" style="stroke-width:0.35px;stroke-opacity:0.6">D</text>
<line x1="185.6" y1="128.7" x2="185.6" y2="222.3" stroke="#222" stroke-width="0.85"/>
<line x1="185.2" y1="221.9" x2="243.3" y2="221.9" stroke="#222" stroke-width="0.85"/>
<line x1="184.0" y1="221.9" x2="185.6" y2="221.9" stroke="#333" stroke-width="0.6"/>
<text x="183.4" y="223.8" font-size="5.3" text-anchor="end" fill="#333" color="#333">0</text>
<line x1="184.0" y1="203.3" x2="185.6" y2="203.3" stroke="#333" stroke-width="0.6"/>
<text x="183.4" y="205.2" font-size="5.3" text-anchor="end" fill="#333" color="#333">20</text>
<line x1="184.0" y1="184.6" x2="185.6" y2="184.6" stroke="#333" stroke-width="0.6"/>
<text x="183.4" y="186.5" font-size="5.3" text-anchor="end" fill="#333" color="#333">40</text>
<line x1="184.0" y1="166.0" x2="185.6" y2="166.0" stroke="#333" stroke-width="0.6"/>
<text x="183.4" y="167.9" font-size="5.3" text-anchor="end" fill="#333" color="#333">60</text>
<line x1="184.0" y1="147.3" x2="185.6" y2="147.3" stroke="#333" stroke-width="0.6"/>
<text x="183.4" y="149.2" font-size="5.3" text-anchor="end" fill="#333" color="#333">80</text>
<line x1="184.0" y1="128.7" x2="185.6" y2="128.7" stroke="#333" stroke-width="0.6"/>
<text x="183.4" y="130.6" font-size="5.3" text-anchor="end" fill="#333" color="#333">100</text>
<rect x="192.7" y="143.6" width="12.1" height="78.3" fill="#bdc4d7" stroke="#2e3860" stroke-width="0.7"/>
<line x1="198.8" y1="138.0" x2="198.8" y2="149.2" stroke="#1c2550" stroke-width="0.8"/>
<line x1="196.1" y1="138.0" x2="201.4" y2="138.0" stroke="#1c2550" stroke-width="0.8"/>
<line x1="196.1" y1="149.2" x2="201.4" y2="149.2" stroke="#1c2550" stroke-width="0.8"/>
<circle cx="196.2" cy="139.9" r="1.7" fill="#1c2550" stroke="none" stroke-width="0.5"/>
<circle cx="201.2" cy="140.8" r="1.7" fill="#1c2550" stroke="none" stroke-width="0.5"/>
<circle cx="198.8" cy="141.3" r="1.7" fill="#1c2550" stroke="none" stroke-width="0.5"/>
<circle cx="196.8" cy="142.7" r="1.7" fill="#1c2550" stroke="none" stroke-width="0.5"/>
<circle cx="201.8" cy="142.2" r="1.7" fill="#1c2550" stroke="none" stroke-width="0.5"/>
<circle cx="197.8" cy="151.1" r="1.7" fill="#1c2550" stroke="none" stroke-width="0.5"/>
<line x1="198.8" y1="221.9" x2="198.8" y2="223.1" stroke="#333" stroke-width="0.5"/>
<rect x="211.2" y="158.5" width="11.8" height="63.4" fill="#fde0bd" stroke="#f2a13c" stroke-width="0.7"/>
<line x1="217.1" y1="150.1" x2="217.1" y2="166.0" stroke="#ee9a2e" stroke-width="0.8"/>
<line x1="214.5" y1="150.1" x2="219.7" y2="150.1" stroke="#ee9a2e" stroke-width="0.8"/>
<line x1="214.5" y1="166.0" x2="219.7" y2="166.0" stroke="#ee9a2e" stroke-width="0.8"/>
<circle cx="217.1" cy="144.5" r="1.7" fill="#ee9a2e" stroke="none" stroke-width="0.5"/>
<circle cx="217.1" cy="151.1" r="1.7" fill="#ee9a2e" stroke="none" stroke-width="0.5"/>
<circle cx="218.1" cy="157.6" r="1.7" fill="#ee9a2e" stroke="none" stroke-width="0.5"/>
<circle cx="215.1" cy="158.5" r="1.7" fill="#ee9a2e" stroke="none" stroke-width="0.5"/>
<circle cx="217.1" cy="168.8" r="1.7" fill="#ee9a2e" stroke="none" stroke-width="0.5"/>
<circle cx="217.1" cy="171.6" r="1.7" fill="#ee9a2e" stroke="none" stroke-width="0.5"/>
<line x1="217.1" y1="221.9" x2="217.1" y2="223.1" stroke="#333" stroke-width="0.5"/>
<rect x="229.8" y="162.3" width="12.1" height="59.6" fill="#f2c0c6" stroke="#c23a4c" stroke-width="0.7"/>
<line x1="235.9" y1="152.9" x2="235.9" y2="171.6" stroke="#b01e38" stroke-width="0.8"/>
<line x1="233.2" y1="152.9" x2="238.5" y2="152.9" stroke="#b01e38" stroke-width="0.8"/>
<line x1="233.2" y1="171.6" x2="238.5" y2="171.6" stroke="#b01e38" stroke-width="0.8"/>
<circle cx="235.9" cy="148.3" r="1.7" fill="#b01e38" stroke="none" stroke-width="0.5"/>
<circle cx="235.9" cy="151.1" r="1.7" fill="#b01e38" stroke="none" stroke-width="0.5"/>
<circle cx="235.9" cy="154.8" r="1.7" fill="#b01e38" stroke="none" stroke-width="0.5"/>
<circle cx="234.9" cy="159.5" r="1.7" fill="#b01e38" stroke="none" stroke-width="0.5"/>
<circle cx="235.9" cy="166.0" r="1.7" fill="#b01e38" stroke="none" stroke-width="0.5"/>
<circle cx="235.9" cy="171.6" r="1.7" fill="#b01e38" stroke="none" stroke-width="0.5"/>
<circle cx="235.9" cy="175.3" r="1.7" fill="#b01e38" stroke="none" stroke-width="0.5"/>
<line x1="235.9" y1="221.9" x2="235.9" y2="223.1" stroke="#333" stroke-width="0.5"/>
<text x="217.3" y="124.2" font-size="7.4" text-anchor="middle" fill="#111" color="#111">TIGIT</text>
<text x="170.0" y="175.5" font-size="5.65" text-anchor="middle" fill="#333" color="#333" transform="rotate(-90 170.0 175.5)">TIGIT<tspan font-size="70%" dy="-1.4">+</tspan><tspan dy="1.4"> CD8</tspan><tspan font-size="70%" dy="-1.4">+</tspan><tspan dy="1.4"> T cells/CD8</tspan><tspan font-size="70%" dy="-1.4">+</tspan><tspan dy="1.4"> T cells (%)</tspan></text>
<text x="204.9" y="228.8" font-size="5.55" text-anchor="end" fill="#333" color="#333" transform="rotate(-45 204.9 228.8)">NC</text>
<text x="223.4" y="228.3" font-size="5.55" text-anchor="end" fill="#333" color="#333" transform="rotate(-45 223.4 228.3)">KD-1#</text>
<text x="241.2" y="228.3" font-size="5.55" text-anchor="end" fill="#333" color="#333" transform="rotate(-45 241.2 228.3)">KD-2#</text>
<line x1="198.7" y1="134.4" x2="217.0" y2="134.4" stroke="#555" stroke-width="0.7"/>
<circle cx="198.7" cy="134.4" r="0.7" fill="#222" stroke="none" stroke-width="0.5"/>
<circle cx="217.0" cy="134.4" r="0.7" fill="#222" stroke="none" stroke-width="0.5"/>
<text x="208.0" y="135.8" font-size="6.4" text-anchor="middle" font-weight="bold" fill="#222" color="#222" letter-spacing="0.35">*</text>
<line x1="198.7" y1="129.2" x2="236.0" y2="129.2" stroke="#555" stroke-width="0.7"/>
<circle cx="198.7" cy="129.2" r="0.7" fill="#222" stroke="none" stroke-width="0.5"/>
<circle cx="236.0" cy="129.2" r="0.7" fill="#222" stroke="none" stroke-width="0.5"/>
<text x="217.5" y="130.6" font-size="6.4" text-anchor="middle" font-weight="bold" fill="#222" color="#222" letter-spacing="0.35">**</text>
<line x1="275.6" y1="131.4" x2="275.6" y2="222.8" stroke="#222" stroke-width="0.85"/>
<line x1="275.2" y1="222.4" x2="335.6" y2="222.4" stroke="#222" stroke-width="0.85"/>
<line x1="274.0" y1="222.4" x2="275.6" y2="222.4" stroke="#333" stroke-width="0.6"/>
<text x="273.4" y="224.3" font-size="5.3" text-anchor="end" fill="#333" color="#333">0</text>
<line x1="274.0" y1="204.2" x2="275.6" y2="204.2" stroke="#333" stroke-width="0.6"/>
<text x="273.4" y="206.1" font-size="5.3" text-anchor="end" fill="#333" color="#333">5</text>
<line x1="274.0" y1="186.0" x2="275.6" y2="186.0" stroke="#333" stroke-width="0.6"/>
<text x="273.4" y="187.9" font-size="5.3" text-anchor="end" fill="#333" color="#333">10</text>
<line x1="274.0" y1="167.8" x2="275.6" y2="167.8" stroke="#333" stroke-width="0.6"/>
<text x="273.4" y="169.7" font-size="5.3" text-anchor="end" fill="#333" color="#333">15</text>
<line x1="274.0" y1="149.6" x2="275.6" y2="149.6" stroke="#333" stroke-width="0.6"/>
<text x="273.4" y="151.5" font-size="5.3" text-anchor="end" fill="#333" color="#333">20</text>
<line x1="274.0" y1="131.4" x2="275.6" y2="131.4" stroke="#333" stroke-width="0.6"/>
<text x="273.4" y="133.3" font-size="5.3" text-anchor="end" fill="#333" color="#333">25</text>
<rect x="282.0" y="187.8" width="11.4" height="34.6" fill="#bdc4d7" stroke="#2e3860" stroke-width="0.7"/>
<line x1="287.7" y1="179.4" x2="287.7" y2="196.2" stroke="#1c2550" stroke-width="0.8"/>
<line x1="285.2" y1="179.4" x2="290.2" y2="179.4" stroke="#1c2550" stroke-width="0.8"/>
<line x1="285.2" y1="196.2" x2="290.2" y2="196.2" stroke="#1c2550" stroke-width="0.8"/>
<circle cx="287.7" cy="177.6" r="1.7" fill="#1c2550" stroke="none" stroke-width="0.5"/>
<circle cx="287.7" cy="180.5" r="1.7" fill="#1c2550" stroke="none" stroke-width="0.5"/>
<circle cx="287.7" cy="185.3" r="1.7" fill="#1c2550" stroke="none" stroke-width="0.5"/>
<circle cx="287.7" cy="193.3" r="1.7" fill="#1c2550" stroke="none" stroke-width="0.5"/>
<circle cx="287.7" cy="196.9" r="1.7" fill="#1c2550" stroke="none" stroke-width="0.5"/>
<circle cx="287.7" cy="200.6" r="1.7" fill="#1c2550" stroke="none" stroke-width="0.5"/>
<line x1="287.7" y1="222.4" x2="287.7" y2="223.6" stroke="#333" stroke-width="0.5"/>
<rect x="300.0" y="159.4" width="11.6" height="63.0" fill="#fde0bd" stroke="#f2a13c" stroke-width="0.7"/>
<line x1="305.8" y1="148.9" x2="305.8" y2="169.6" stroke="#ee9a2e" stroke-width="0.8"/>
<line x1="303.2" y1="148.9" x2="308.4" y2="148.9" stroke="#ee9a2e" stroke-width="0.8"/>
<line x1="303.2" y1="169.6" x2="308.4" y2="169.6" stroke="#ee9a2e" stroke-width="0.8"/>
<circle cx="305.8" cy="144.9" r="1.7" fill="#ee9a2e" stroke="none" stroke-width="0.5"/>
<circle cx="305.8" cy="148.5" r="1.7" fill="#ee9a2e" stroke="none" stroke-width="0.5"/>
<circle cx="305.8" cy="158.7" r="1.7" fill="#ee9a2e" stroke="none" stroke-width="0.5"/>
<circle cx="305.8" cy="166.0" r="1.7" fill="#ee9a2e" stroke="none" stroke-width="0.5"/>
<circle cx="305.8" cy="170.7" r="1.7" fill="#ee9a2e" stroke="none" stroke-width="0.5"/>
<circle cx="305.8" cy="174.0" r="1.7" fill="#ee9a2e" stroke="none" stroke-width="0.5"/>
<line x1="305.8" y1="222.4" x2="305.8" y2="223.6" stroke="#333" stroke-width="0.5"/>
<rect x="318.2" y="153.2" width="12.2" height="69.2" fill="#f2c0c6" stroke="#c23a4c" stroke-width="0.7"/>
<line x1="324.3" y1="140.1" x2="324.3" y2="166.0" stroke="#b01e38" stroke-width="0.8"/>
<line x1="321.6" y1="140.1" x2="327.0" y2="140.1" stroke="#b01e38" stroke-width="0.8"/>
<line x1="321.6" y1="166.0" x2="327.0" y2="166.0" stroke="#b01e38" stroke-width="0.8"/>
<circle cx="324.3" cy="138.7" r="1.7" fill="#b01e38" stroke="none" stroke-width="0.5"/>
<circle cx="324.3" cy="142.3" r="1.7" fill="#b01e38" stroke="none" stroke-width="0.5"/>
<circle cx="324.3" cy="146.0" r="1.7" fill="#b01e38" stroke="none" stroke-width="0.5"/>
<circle cx="324.3" cy="151.4" r="1.7" fill="#b01e38" stroke="none" stroke-width="0.5"/>
<circle cx="324.3" cy="158.7" r="1.7" fill="#b01e38" stroke="none" stroke-width="0.5"/>
<circle cx="324.3" cy="176.9" r="1.7" fill="#b01e38" stroke="none" stroke-width="0.5"/>
<line x1="324.3" y1="222.4" x2="324.3" y2="223.6" stroke="#333" stroke-width="0.5"/>
<text x="305.7" y="124.0" font-size="7.4" text-anchor="middle" fill="#111" color="#111">Perforin</text>
<text x="262.0" y="178.0" font-size="5.65" text-anchor="middle" fill="#333" color="#333" transform="rotate(-90 262.0 178.0)">Perforin<tspan font-size="70%" dy="-1.4">+</tspan><tspan dy="1.4"> CD8</tspan><tspan font-size="70%" dy="-1.4">+</tspan><tspan dy="1.4"> T cells/CD8</tspan><tspan font-size="70%" dy="-1.4">+</tspan><tspan dy="1.4"> T cells (%)</tspan></text>
<text x="293.8" y="228.8" font-size="5.55" text-anchor="end" fill="#333" color="#333" transform="rotate(-45 293.8 228.8)">NC</text>
<text x="312.2" y="228.6" font-size="5.55" text-anchor="end" fill="#333" color="#333" transform="rotate(-45 312.2 228.6)">KD-1#</text>
<text x="330.1" y="229.4" font-size="5.55" text-anchor="end" fill="#333" color="#333" transform="rotate(-45 330.1 229.4)">KD-2#</text>
<line x1="288.0" y1="140.3" x2="306.2" y2="140.3" stroke="#555" stroke-width="0.7"/>
<circle cx="288.0" cy="140.3" r="0.7" fill="#222" stroke="none" stroke-width="0.5"/>
<circle cx="306.2" cy="140.3" r="0.7" fill="#222" stroke="none" stroke-width="0.5"/>
<text x="297.3" y="141.7" font-size="6.4" text-anchor="middle" font-weight="bold" fill="#222" color="#222" letter-spacing="0.35">***</text>
<line x1="288.0" y1="135.6" x2="323.5" y2="135.6" stroke="#555" stroke-width="0.7"/>
<circle cx="288.0" cy="135.6" r="0.7" fill="#222" stroke="none" stroke-width="0.5"/>
<circle cx="323.5" cy="135.6" r="0.7" fill="#222" stroke="none" stroke-width="0.5"/>
<text x="305.9" y="137.0" font-size="6.4" text-anchor="middle" font-weight="bold" fill="#222" color="#222" letter-spacing="0.35">***</text>
<line x1="362.4" y1="128.3" x2="362.4" y2="222.9" stroke="#222" stroke-width="0.85"/>
<line x1="362.0" y1="222.5" x2="425.5" y2="222.5" stroke="#222" stroke-width="0.85"/>
<line x1="360.8" y1="222.5" x2="362.4" y2="222.5" stroke="#333" stroke-width="0.6"/>
<text x="360.2" y="224.4" font-size="5.3" text-anchor="end" fill="#333" color="#333">0</text>
<line x1="360.8" y1="191.1" x2="362.4" y2="191.1" stroke="#333" stroke-width="0.6"/>
<text x="360.2" y="193.0" font-size="5.3" text-anchor="end" fill="#333" color="#333">20</text>
<line x1="360.8" y1="159.7" x2="362.4" y2="159.7" stroke="#333" stroke-width="0.6"/>
<text x="360.2" y="161.6" font-size="5.3" text-anchor="end" fill="#333" color="#333">40</text>
<line x1="360.8" y1="128.3" x2="362.4" y2="128.3" stroke="#333" stroke-width="0.6"/>
<text x="360.2" y="130.2" font-size="5.3" text-anchor="end" fill="#333" color="#333">60</text>
<rect x="368.8" y="182.0" width="11.9" height="40.5" fill="#bdc4d7" stroke="#2e3860" stroke-width="0.7"/>
<line x1="374.8" y1="169.9" x2="374.8" y2="194.2" stroke="#1c2550" stroke-width="0.8"/>
<line x1="372.1" y1="169.9" x2="377.4" y2="169.9" stroke="#1c2550" stroke-width="0.8"/>
<line x1="372.1" y1="194.2" x2="377.4" y2="194.2" stroke="#1c2550" stroke-width="0.8"/>
<circle cx="374.8" cy="164.4" r="1.7" fill="#1c2550" stroke="none" stroke-width="0.5"/>
<circle cx="373.8" cy="178.5" r="1.7" fill="#1c2550" stroke="none" stroke-width="0.5"/>
<circle cx="376.2" cy="180.1" r="1.7" fill="#1c2550" stroke="none" stroke-width="0.5"/>
<circle cx="374.8" cy="186.4" r="1.7" fill="#1c2550" stroke="none" stroke-width="0.5"/>
<circle cx="374.8" cy="198.9" r="1.7" fill="#1c2550" stroke="none" stroke-width="0.5"/>
<line x1="374.8" y1="222.5" x2="374.8" y2="223.7" stroke="#333" stroke-width="0.5"/>
<rect x="387.6" y="164.1" width="12.3" height="58.4" fill="#fde0bd" stroke="#f2a13c" stroke-width="0.7"/>
<line x1="393.8" y1="155.8" x2="393.8" y2="172.3" stroke="#ee9a2e" stroke-width="0.8"/>
<line x1="391.0" y1="155.8" x2="396.5" y2="155.8" stroke="#ee9a2e" stroke-width="0.8"/>
<line x1="391.0" y1="172.3" x2="396.5" y2="172.3" stroke="#ee9a2e" stroke-width="0.8"/>
<circle cx="393.8" cy="150.3" r="1.7" fill="#ee9a2e" stroke="none" stroke-width="0.5"/>
<circle cx="393.8" cy="156.6" r="1.7" fill="#ee9a2e" stroke="none" stroke-width="0.5"/>
<circle cx="393.8" cy="162.8" r="1.7" fill="#ee9a2e" stroke="none" stroke-width="0.5"/>
<circle cx="393.8" cy="167.6" r="1.7" fill="#ee9a2e" stroke="none" stroke-width="0.5"/>
<circle cx="393.8" cy="172.3" r="1.7" fill="#ee9a2e" stroke="none" stroke-width="0.5"/>
<circle cx="393.8" cy="177.0" r="1.7" fill="#ee9a2e" stroke="none" stroke-width="0.5"/>
<line x1="393.8" y1="222.5" x2="393.8" y2="223.7" stroke="#333" stroke-width="0.5"/>
<rect x="406.3" y="156.6" width="12.4" height="65.9" fill="#f2c0c6" stroke="#c23a4c" stroke-width="0.7"/>
<line x1="412.5" y1="143.2" x2="412.5" y2="169.9" stroke="#b01e38" stroke-width="0.8"/>
<line x1="409.8" y1="143.2" x2="415.2" y2="143.2" stroke="#b01e38" stroke-width="0.8"/>
<line x1="409.8" y1="169.9" x2="415.2" y2="169.9" stroke="#b01e38" stroke-width="0.8"/>
<circle cx="412.5" cy="144.0" r="1.7" fill="#b01e38" stroke="none" stroke-width="0.5"/>
<circle cx="411.0" cy="147.1" r="1.7" fill="#b01e38" stroke="none" stroke-width="0.5"/>
<circle cx="414.0" cy="150.3" r="1.7" fill="#b01e38" stroke="none" stroke-width="0.5"/>
<circle cx="412.5" cy="169.1" r="1.7" fill="#b01e38" stroke="none" stroke-width="0.5"/>
<circle cx="412.5" cy="178.5" r="1.7" fill="#b01e38" stroke="none" stroke-width="0.5"/>
<line x1="412.5" y1="222.5" x2="412.5" y2="223.7" stroke="#333" stroke-width="0.5"/>
<text x="394.4" y="124.8" font-size="7.4" text-anchor="middle" fill="#111" color="#111">IFNγ</text>
<text x="351.0" y="176.0" font-size="5.7" text-anchor="middle" fill="#333" color="#333" transform="rotate(-90 351.0 176.0)">IFNγ<tspan font-size="70%" dy="-1.4">+</tspan><tspan dy="1.4"> CD8</tspan><tspan font-size="70%" dy="-1.4">+</tspan><tspan dy="1.4"> T cells/CD8</tspan><tspan font-size="70%" dy="-1.4">+</tspan><tspan dy="1.4"> T cells (%)</tspan></text>
<text x="381.3" y="229.4" font-size="5.55" text-anchor="end" fill="#333" color="#333" transform="rotate(-45 381.3 229.4)">NC</text>
<text x="399.4" y="228.8" font-size="5.55" text-anchor="end" fill="#333" color="#333" transform="rotate(-45 399.4 228.8)">KD-1#</text>
<text x="417.4" y="229.4" font-size="5.55" text-anchor="end" fill="#333" color="#333" transform="rotate(-45 417.4 229.4)">KD-2#</text>
<line x1="374.3" y1="146.0" x2="393.9" y2="146.0" stroke="#555" stroke-width="0.7"/>
<circle cx="374.3" cy="146.0" r="0.7" fill="#222" stroke="none" stroke-width="0.5"/>
<circle cx="393.9" cy="146.0" r="0.7" fill="#222" stroke="none" stroke-width="0.5"/>
<text x="384.3" y="147.4" font-size="6.4" text-anchor="middle" font-weight="bold" fill="#222" color="#222" letter-spacing="0.35">*</text>
<line x1="374.3" y1="136.9" x2="412.7" y2="136.9" stroke="#555" stroke-width="0.7"/>
<circle cx="374.3" cy="136.9" r="0.7" fill="#222" stroke="none" stroke-width="0.5"/>
<circle cx="412.7" cy="136.9" r="0.7" fill="#222" stroke="none" stroke-width="0.5"/>
<text x="393.7" y="138.3" font-size="6.4" text-anchor="middle" font-weight="bold" fill="#222" color="#222" letter-spacing="0.35">**</text>
<line x1="450.6" y1="129.3" x2="450.6" y2="222.7" stroke="#222" stroke-width="0.85"/>
<line x1="450.2" y1="222.3" x2="514.0" y2="222.3" stroke="#222" stroke-width="0.85"/>
<line x1="449.0" y1="222.3" x2="450.6" y2="222.3" stroke="#333" stroke-width="0.6"/>
<text x="448.4" y="224.2" font-size="5.3" text-anchor="end" fill="#333" color="#333">0</text>
<line x1="449.0" y1="191.3" x2="450.6" y2="191.3" stroke="#333" stroke-width="0.6"/>
<text x="448.4" y="193.2" font-size="5.3" text-anchor="end" fill="#333" color="#333">1</text>
<line x1="449.0" y1="160.3" x2="450.6" y2="160.3" stroke="#333" stroke-width="0.6"/>
<text x="448.4" y="162.2" font-size="5.3" text-anchor="end" fill="#333" color="#333">2</text>
<line x1="449.0" y1="129.3" x2="450.6" y2="129.3" stroke="#333" stroke-width="0.6"/>
<text x="448.4" y="131.2" font-size="5.3" text-anchor="end" fill="#333" color="#333">3</text>
<rect x="457.5" y="208.4" width="11.9" height="13.9" fill="#bdc4d7" stroke="#2e3860" stroke-width="0.7"/>
<line x1="463.4" y1="194.4" x2="463.4" y2="222.3" stroke="#1c2550" stroke-width="0.8"/>
<line x1="460.8" y1="194.4" x2="466.1" y2="194.4" stroke="#1c2550" stroke-width="0.8"/>
<line x1="460.8" y1="222.3" x2="466.1" y2="222.3" stroke="#1c2550" stroke-width="0.8"/>
<circle cx="462.4" cy="186.7" r="1.7" fill="#1c2550" stroke="none" stroke-width="0.5"/>
<circle cx="463.4" cy="200.6" r="1.7" fill="#1c2550" stroke="none" stroke-width="0.5"/>
<circle cx="464.9" cy="206.8" r="1.7" fill="#1c2550" stroke="none" stroke-width="0.5"/>
<circle cx="461.4" cy="222.3" r="1.7" fill="#1c2550" stroke="none" stroke-width="0.5"/>
<circle cx="465.4" cy="222.3" r="1.7" fill="#1c2550" stroke="none" stroke-width="0.5"/>
<line x1="463.4" y1="222.3" x2="463.4" y2="223.5" stroke="#333" stroke-width="0.5"/>
<rect x="476.2" y="189.1" width="11.9" height="33.2" fill="#fde0bd" stroke="#f2a13c" stroke-width="0.7"/>
<line x1="482.1" y1="151.0" x2="482.1" y2="222.3" stroke="#ee9a2e" stroke-width="0.8"/>
<line x1="479.5" y1="151.0" x2="484.8" y2="151.0" stroke="#ee9a2e" stroke-width="0.8"/>
<line x1="479.5" y1="222.3" x2="484.8" y2="222.3" stroke="#ee9a2e" stroke-width="0.8"/>
<circle cx="482.1" cy="151.0" r="1.7" fill="#ee9a2e" stroke="none" stroke-width="0.5"/>
<circle cx="482.1" cy="157.2" r="1.7" fill="#ee9a2e" stroke="none" stroke-width="0.5"/>
<circle cx="482.1" cy="188.2" r="1.7" fill="#ee9a2e" stroke="none" stroke-width="0.5"/>
<circle cx="482.1" cy="205.2" r="1.7" fill="#ee9a2e" stroke="none" stroke-width="0.5"/>
<circle cx="482.1" cy="213.0" r="1.7" fill="#ee9a2e" stroke="none" stroke-width="0.5"/>
<circle cx="482.1" cy="222.3" r="1.7" fill="#ee9a2e" stroke="none" stroke-width="0.5"/>
<line x1="482.1" y1="222.3" x2="482.1" y2="223.5" stroke="#333" stroke-width="0.5"/>
<rect x="494.5" y="181.4" width="12.2" height="40.9" fill="#f2c0c6" stroke="#c23a4c" stroke-width="0.7"/>
<line x1="500.6" y1="172.7" x2="500.6" y2="189.8" stroke="#b01e38" stroke-width="0.8"/>
<line x1="497.9" y1="172.7" x2="503.3" y2="172.7" stroke="#b01e38" stroke-width="0.8"/>
<line x1="497.9" y1="189.8" x2="503.3" y2="189.8" stroke="#b01e38" stroke-width="0.8"/>
<circle cx="500.6" cy="172.7" r="1.7" fill="#b01e38" stroke="none" stroke-width="0.5"/>
<circle cx="499.1" cy="175.8" r="1.7" fill="#b01e38" stroke="none" stroke-width="0.5"/>
<circle cx="502.1" cy="177.4" r="1.7" fill="#b01e38" stroke="none" stroke-width="0.5"/>
<circle cx="500.6" cy="178.9" r="1.7" fill="#b01e38" stroke="none" stroke-width="0.5"/>
<circle cx="500.6" cy="182.0" r="1.7" fill="#b01e38" stroke="none" stroke-width="0.5"/>
<circle cx="500.6" cy="196.0" r="1.7" fill="#b01e38" stroke="none" stroke-width="0.5"/>
<line x1="500.6" y1="222.3" x2="500.6" y2="223.5" stroke="#333" stroke-width="0.5"/>
<text x="481.3" y="124.0" font-size="7.4" text-anchor="middle" fill="#111" color="#111">TCF1</text>
<text x="439.0" y="175.5" font-size="5.65" text-anchor="middle" fill="#333" color="#333" transform="rotate(-90 439.0 175.5)">TCF1<tspan font-size="70%" dy="-1.4">+</tspan><tspan dy="1.4"> CD8</tspan><tspan font-size="70%" dy="-1.4">+</tspan><tspan dy="1.4"> T cells/CD8</tspan><tspan font-size="70%" dy="-1.4">+</tspan><tspan dy="1.4"> T cells (%)</tspan></text>
<text x="469.5" y="228.9" font-size="5.55" text-anchor="end" fill="#333" color="#333" transform="rotate(-45 469.5 228.9)">NC</text>
<text x="488.2" y="228.9" font-size="5.55" text-anchor="end" fill="#333" color="#333" transform="rotate(-45 488.2 228.9)">KD-1#</text>
<text x="506.7" y="228.9" font-size="5.55" text-anchor="end" fill="#333" color="#333" transform="rotate(-45 506.7 228.9)">KD-2#</text>
<line x1="461.2" y1="134.3" x2="500.3" y2="134.3" stroke="#555" stroke-width="0.7"/>
<circle cx="461.2" cy="134.3" r="0.7" fill="#222" stroke="none" stroke-width="0.5"/>
<circle cx="500.3" cy="134.3" r="0.7" fill="#222" stroke="none" stroke-width="0.5"/>
<text x="480.9" y="135.7" font-size="6.4" text-anchor="middle" font-weight="bold" fill="#222" color="#222" letter-spacing="0.35">**</text>
<line x1="461.2" y1="146.0" x2="482.0" y2="146.0" stroke="#555" stroke-width="0.7"/>
<circle cx="461.2" cy="146.0" r="0.7" fill="#222" stroke="none" stroke-width="0.5"/>
<circle cx="482.0" cy="146.0" r="0.7" fill="#222" stroke="none" stroke-width="0.5"/>
<text x="471.6" y="145.4" font-size="5.5" text-anchor="middle" fill="#333" color="#333"></text>
<text x="459.7" y="143.5" font-size="5.8" fill="#333" color="#333"><tspan font-style="italic">P</tspan> = 0.1913</text>
<text x="1.5" y="261.5" font-size="12" font-weight="bold" fill="#000" color="#000" style="stroke-width:0.35px;stroke-opacity:0.6">E</text>
<g transform="translate(18.2 272.0) scale(1.1)" fill="#1d2b5a"><circle cx="0" cy="2.2" r="2.3"/><path d="M-3.4,5.2 Q-3.4,4.6 -2.6,4.6 L2.6,4.6 Q3.4,4.6 3.4,5.2 L3.4,13.5 L1.9,13.5 L1.9,22.5 L-1.9,22.5 L-1.9,13.5 L-3.4,13.5 Z"/></g>
<text x="58.8" y="269.1" font-size="5.6" text-anchor="middle" fill="#222" color="#222">Tumoral tissues</text>
<line x1="26.8" y1="277.9" x2="49.8" y2="277.9" stroke="#333" stroke-width="0.55"/>
<polygon points="52.0,277.9 49.8,278.9 49.8,276.9" fill="#333"/>
<circle cx="59.7" cy="278.7" r="5.0" fill="#fde19a" stroke="#f0c060" stroke-width="0.8"/>
<line x1="67.8" y1="278.8" x2="104.6" y2="278.8" stroke="#333" stroke-width="0.55"/>
<polygon points="106.8,278.8 104.6,279.8 104.6,277.8" fill="#333"/>
<text x="123.5" y="269.0" font-size="5.6" text-anchor="middle" fill="#222" color="#222">CAFs</text>
<path d="M114.0,280.5 L114.0,283.1 A9.5,1.9 0 0 0 133.0,283.1 L133.0,280.5 Z" fill="#dcaa38" stroke="#a98224" stroke-width="0.5"/>
<ellipse cx="123.5" cy="280.5" rx="9.5" ry="1.9" fill="#f3d57c" stroke="#b08a2a" stroke-width="0.55"/>
<ellipse cx="123.5" cy="280.9" rx="6.6" ry="0.9" fill="#e2b443" opacity="0.8"/>
<line x1="122.5" y1="288.3" x2="122.5" y2="299.8" stroke="#333" stroke-width="0.55"/>
<polygon points="122.5,302.0 121.5,299.8 123.5,299.8" fill="#333"/>
<text x="117.7" y="299.0" font-size="5.6" text-anchor="end" fill="#222" color="#222"><tspan font-style="italic">B2M</tspan> KD</text>
<path d="M114.0,305.6 L114.0,308.2 A9.5,1.9 0 0 0 133.0,308.2 L133.0,305.6 Z" fill="#dcaa38" stroke="#a98224" stroke-width="0.5"/>
<ellipse cx="123.5" cy="305.6" rx="9.5" ry="1.9" fill="#f3d57c" stroke="#b08a2a" stroke-width="0.55"/>
<ellipse cx="123.5" cy="306.0" rx="6.6" ry="0.9" fill="#e2b443" opacity="0.8"/>
<line x1="122.5" y1="314.5" x2="122.5" y2="328.0" stroke="#333" stroke-width="0.55"/>
<polygon points="122.5,330.2 121.5,328.0 123.5,328.0" fill="#333"/>
<text x="120.6" y="324.5" font-size="5.6" text-anchor="end" fill="#222" color="#222">Expansion</text>
<path d="M114.3,333.8 L114.3,342.6 A8.5,2.1 0 0 0 131.3,342.6 L131.3,333.8 Z" fill="#fbf5e4" stroke="#7d8296" stroke-width="0.55"/>
<path d="M114.5,336.6 L114.5,342.6 A8.3,2.0 0 0 0 131.1,342.6 L131.1,336.6 A8.3,1.6 0 0 1 114.5,336.6 Z" fill="#f1bc3c"/>
<path d="M114.5,341.2 L114.5,342.6 A8.3,2.0 0 0 0 131.1,342.6 L131.1,341.2 A8.3,1.8 0 0 1 114.5,341.2 Z" fill="#9cc840"/>
<ellipse cx="117.5" cy="338.6" rx="1.5" ry="0.6" fill="#e08a30" opacity="0.7"/>
<ellipse cx="121" cy="339.4" rx="1.5" ry="0.6" fill="#e08a30" opacity="0.7"/>
<ellipse cx="125" cy="338.4" rx="1.5" ry="0.6" fill="#e08a30" opacity="0.7"/>
<ellipse cx="128.3" cy="339.6" rx="1.5" ry="0.6" fill="#e08a30" opacity="0.7"/>
<ellipse cx="122.8" cy="333.8" rx="8.5" ry="1.9" fill="#fffaf0" stroke="#7d8296" stroke-width="0.55"/>
<line x1="122.5" y1="346.5" x2="122.5" y2="356.1" stroke="#333" stroke-width="0.55"/>
<polygon points="122.5,358.3 121.5,356.1 123.5,356.1" fill="#333"/>
<text x="122.5" y="365.5" font-size="5.6" text-anchor="middle" fill="#222" color="#222">Immunofluorescence</text>
<text x="122.5" y="374.0" font-size="5.6" text-anchor="middle" fill="#222" color="#222">Flowcytometry</text>
<line x1="18.2" y1="295.5" x2="18.2" y2="306.0" stroke="#555" stroke-width="0.6" stroke-dasharray="1,0.8"/>
<circle cx="17.6" cy="312.9" r="3.4" fill="#e8768e" stroke="none" stroke-width="0.5"/>
<text x="25.6" y="309.4" font-size="5.6" fill="#222" color="#222">Metastatic</text>
<text x="25.6" y="317.0" font-size="5.6" fill="#222" color="#222">lymph node</text>
<line x1="17.6" y1="317.5" x2="17.6" y2="328.3" stroke="#333" stroke-width="0.55"/>
<polygon points="17.6,330.5 16.6,328.3 18.6,328.3" fill="#333"/>
<circle cx="17.3" cy="339.8" r="1.4" fill="#f0cccc" stroke="#d8a8ac" stroke-width="0.35"/>
<circle cx="14.7" cy="343.4" r="1.4" fill="#f0cccc" stroke="#d8a8ac" stroke-width="0.35"/>
<circle cx="20.4" cy="342.9" r="1.4" fill="#f0cccc" stroke="#d8a8ac" stroke-width="0.35"/>
<text x="25.0" y="342.8" font-size="5.6" fill="#222" color="#222">CD8<tspan font-size="70%" dy="-1.5">+</tspan><tspan dy="1.5"> cells</tspan></text>
<path d="M17.6,350.7 L17.6,365.7 L58.8,365.7" fill="none" stroke="#333" stroke-width="0.55"/>
<line x1="50.0" y1="365.7" x2="57.3" y2="365.7" stroke="#333" stroke-width="0.55"/>
<polygon points="59.5,365.7 57.3,366.7 57.3,364.7" fill="#333"/>
<text x="35.5" y="363.3" font-size="5.6" text-anchor="middle" fill="#222" color="#222">IL2</text>
<text x="33.7" y="373.4" font-size="5.6" text-anchor="middle" fill="#222" color="#222">CD3/CD28</text>
<circle cx="68.3" cy="356.4" r="1.4" fill="#f0cccc" stroke="#d8a8ac" stroke-width="0.35"/>
<circle cx="73.5" cy="357.3" r="1.4" fill="#f0cccc" stroke="#d8a8ac" stroke-width="0.35"/>
<circle cx="64.4" cy="361.6" r="1.4" fill="#f0cccc" stroke="#d8a8ac" stroke-width="0.35"/>
<circle cx="69.2" cy="361.6" r="1.4" fill="#f0cccc" stroke="#d8a8ac" stroke-width="0.35"/>
<circle cx="74.0" cy="361.6" r="1.4" fill="#f0cccc" stroke="#d8a8ac" stroke-width="0.35"/>
<circle cx="79.2" cy="359.8" r="1.4" fill="#f0cccc" stroke="#d8a8ac" stroke-width="0.35"/>
<circle cx="66.6" cy="366.2" r="1.4" fill="#f0cccc" stroke="#d8a8ac" stroke-width="0.35"/>
<circle cx="71.5" cy="366.2" r="1.4" fill="#f0cccc" stroke="#d8a8ac" stroke-width="0.35"/>
<circle cx="77.9" cy="365.4" r="1.4" fill="#f0cccc" stroke="#d8a8ac" stroke-width="0.35"/>
<circle cx="68.9" cy="370.9" r="1.4" fill="#f0cccc" stroke="#d8a8ac" stroke-width="0.35"/>
<circle cx="74.0" cy="370.6" r="1.4" fill="#f0cccc" stroke="#d8a8ac" stroke-width="0.35"/>
<path d="M71.2,352.5 L71.2,338.5 L113.5,338.5" fill="none" stroke="#333" stroke-width="0.55"/>
<line x1="105.0" y1="338.5" x2="111.8" y2="338.5" stroke="#333" stroke-width="0.55"/>
<polygon points="114.0,338.5 111.8,339.5 111.8,337.5" fill="#333"/>
<text x="92.7" y="344.7" font-size="5.6" text-anchor="middle" fill="#222" color="#222">Coculture</text>
<text x="153.8" y="261.5" font-size="12" font-weight="bold" fill="#000" color="#000" style="stroke-width:0.35px;stroke-opacity:0.6">F</text>
<rect x="165.8" y="265.8" width="60.2" height="101.6" fill="#000" stroke="none" stroke-width="0.6"/>
<line x1="165.8" y1="316.2" x2="217.4" y2="316.2" stroke="#ccc" stroke-width="0.9"/>
<line x1="217.4" y1="265.8" x2="217.4" y2="367.4" stroke="#999" stroke-width="0.8"/>
<text x="222.9" y="287.5" font-size="5.4" text-anchor="middle" fill="#2ea84a" color="#2ea84a" transform="rotate(-90 222.9 287.5)">GFP (CAF)</text>
<text x="222.9" y="309.0" font-size="5.2" text-anchor="middle" fill="#d82828" color="#d82828" transform="rotate(-90 222.9 309.0)">CD8s</text>
<text x="222.9" y="342.0" font-size="5.2" text-anchor="middle" fill="#3a5ad8" color="#3a5ad8" transform="rotate(-90 222.9 342.0)">DAPI</text>
<text x="163.0" y="290.5" font-size="5.0" text-anchor="middle" fill="#222" color="#222" transform="rotate(-90 163.0 290.5)"><tspan font-style="italic">B2M</tspan>-NC</text>
<text x="163.0" y="341.5" font-size="5.0" text-anchor="middle" fill="#222" color="#222" transform="rotate(-90 163.0 341.5)"><tspan font-style="italic">B2M</tspan>-KD</text>
<defs><filter id="glow" x="-50%" y="-50%" width="200%" height="200%"><feGaussianBlur stdDeviation="0.85"/></filter></defs>
<g filter="url(#glow)"><path d="M188.5,284 L191.5,290 L195,298 L199,306" stroke="#1a8a4a" stroke-width="1.2" fill="none" opacity="0.8"/><ellipse cx="185.7" cy="269.8" rx="1.8" ry="1.5" fill="#e8d8f0"/><ellipse cx="188.3" cy="277.3" rx="2.6" ry="4.6" fill="#e02840" transform="rotate(25 188.3 277.3)"/><ellipse cx="185.2" cy="277" rx="2.2" ry="2.2" fill="#7050f0"/><ellipse cx="184.8" cy="282" rx="2.6" ry="2.4" fill="#5070ff"/><ellipse cx="191.3" cy="292" rx="2.4" ry="6.8" fill="#20e080" transform="rotate(-25 191.3 292)"/><ellipse cx="188.1" cy="291" rx="1.5" ry="1.5" fill="#e04060"/><ellipse cx="194" cy="292" rx="1.5" ry="1.5" fill="#9070e0"/><ellipse cx="191.5" cy="299.2" rx="1.4" ry="1.4" fill="#c02050"/><ellipse cx="196.8" cy="302" rx="2.3" ry="2.3" fill="#a070e8"/><ellipse cx="198.7" cy="306.4" rx="2.6" ry="2.6" fill="#e050a0"/><ellipse cx="200.6" cy="308.6" rx="2.2" ry="2.2" fill="#c070d0"/><ellipse cx="197.7" cy="310.5" rx="1.8" ry="1.8" fill="#d060b0"/><ellipse cx="202" cy="304.5" rx="1.5" ry="1.5" fill="#6040d0"/></g>
<g filter="url(#glow)"><path d="M185.5,318 L188,328 L191,338" stroke="#50c0a0" stroke-width="0.8" fill="none" opacity="0.9"/><ellipse cx="191.3" cy="341" rx="2.3" ry="7.8" fill="#30d8a8" transform="rotate(-16 191.3 341)"/><ellipse cx="189" cy="342.5" rx="1.6" ry="2" fill="#a0c0ff" opacity="0.9"/><ellipse cx="186.7" cy="346.8" rx="2" ry="3" fill="#801850" opacity="0.8"/><ellipse cx="192.5" cy="348.5" rx="1.6" ry="1.6" fill="#60d0c0"/><path d="M186,353.5 L196,352.5 L204,354" stroke="#506060" stroke-width="0.6" fill="none" opacity="0.8"/></g>
<line x1="210.5" y1="313.8" x2="213.5" y2="313.8" stroke="#ddd" stroke-width="0.6"/>
<line x1="210.5" y1="364.9" x2="213.5" y2="364.9" stroke="#ddd" stroke-width="0.6"/>
<text x="197.0" y="380.5" font-size="5.6" text-anchor="middle" fill="#222" color="#222">Coculture of CAFs and CD8<tspan font-size="70%" dy="-1.5">+</tspan><tspan dy="1.5"> T cells</tspan></text>
<line x1="265.5" y1="269.9" x2="265.5" y2="364.4" stroke="#222" stroke-width="0.85"/>
<line x1="265.1" y1="364.0" x2="328.0" y2="364.0" stroke="#222" stroke-width="0.85"/>
<line x1="263.9" y1="364.0" x2="265.5" y2="364.0" stroke="#333" stroke-width="0.6"/>
<text x="263.3" y="365.9" font-size="5.3" text-anchor="end" fill="#333" color="#333">0</text>
<line x1="263.9" y1="340.5" x2="265.5" y2="340.5" stroke="#333" stroke-width="0.6"/>
<text x="263.3" y="342.4" font-size="5.3" text-anchor="end" fill="#333" color="#333">5</text>
<line x1="263.9" y1="316.9" x2="265.5" y2="316.9" stroke="#333" stroke-width="0.6"/>
<text x="263.3" y="318.9" font-size="5.3" text-anchor="end" fill="#333" color="#333">10</text>
<line x1="263.9" y1="293.4" x2="265.5" y2="293.4" stroke="#333" stroke-width="0.6"/>
<text x="263.3" y="295.3" font-size="5.3" text-anchor="end" fill="#333" color="#333">15</text>
<line x1="263.9" y1="269.9" x2="265.5" y2="269.9" stroke="#333" stroke-width="0.6"/>
<text x="263.3" y="271.8" font-size="5.3" text-anchor="end" fill="#333" color="#333">20</text>
<rect x="276.5" y="322.1" width="17.1" height="41.9" fill="#bdc4d7" stroke="#2e3860" stroke-width="0.7"/>
<line x1="285.1" y1="302.8" x2="285.1" y2="341.4" stroke="#1c2550" stroke-width="0.8"/>
<line x1="281.3" y1="302.8" x2="288.8" y2="302.8" stroke="#1c2550" stroke-width="0.8"/>
<line x1="281.3" y1="341.4" x2="288.8" y2="341.4" stroke="#1c2550" stroke-width="0.8"/>
<circle cx="284.1" cy="284.0" r="1.7" fill="#1c2550" stroke="none" stroke-width="0.5"/>
<circle cx="284.1" cy="302.8" r="1.7" fill="#1c2550" stroke="none" stroke-width="0.5"/>
<circle cx="285.1" cy="307.5" r="1.7" fill="#1c2550" stroke="none" stroke-width="0.5"/>
<circle cx="284.1" cy="326.4" r="1.7" fill="#1c2550" stroke="none" stroke-width="0.5"/>
<circle cx="285.1" cy="331.1" r="1.7" fill="#1c2550" stroke="none" stroke-width="0.5"/>
<circle cx="280.1" cy="339.5" r="1.7" fill="#1c2550" stroke="none" stroke-width="0.5"/>
<circle cx="285.1" cy="339.5" r="1.7" fill="#1c2550" stroke="none" stroke-width="0.5"/>
<circle cx="290.1" cy="339.5" r="1.7" fill="#1c2550" stroke="none" stroke-width="0.5"/>
<circle cx="282.1" cy="335.8" r="1.7" fill="#1c2550" stroke="none" stroke-width="0.5"/>
<circle cx="288.1" cy="334.8" r="1.7" fill="#1c2550" stroke="none" stroke-width="0.5"/>
<line x1="285.1" y1="364.0" x2="285.1" y2="365.2" stroke="#333" stroke-width="0.5"/>
<rect x="302.5" y="350.4" width="17.9" height="13.6" fill="#f2c0c6" stroke="#c23a4c" stroke-width="0.7"/>
<line x1="311.4" y1="341.9" x2="311.4" y2="359.3" stroke="#b01e38" stroke-width="0.8"/>
<line x1="307.5" y1="341.9" x2="315.4" y2="341.9" stroke="#b01e38" stroke-width="0.8"/>
<line x1="307.5" y1="359.3" x2="315.4" y2="359.3" stroke="#b01e38" stroke-width="0.8"/>
<circle cx="310.4" cy="331.1" r="1.7" fill="#b01e38" stroke="none" stroke-width="0.5"/>
<circle cx="310.4" cy="335.8" r="1.7" fill="#b01e38" stroke="none" stroke-width="0.5"/>
<circle cx="313.4" cy="345.2" r="1.7" fill="#b01e38" stroke="none" stroke-width="0.5"/>
<circle cx="306.4" cy="349.9" r="1.7" fill="#b01e38" stroke="none" stroke-width="0.5"/>
<circle cx="311.4" cy="349.9" r="1.7" fill="#b01e38" stroke="none" stroke-width="0.5"/>
<circle cx="316.4" cy="349.9" r="1.7" fill="#b01e38" stroke="none" stroke-width="0.5"/>
<circle cx="308.4" cy="352.2" r="1.7" fill="#b01e38" stroke="none" stroke-width="0.5"/>
<circle cx="314.4" cy="353.2" r="1.7" fill="#b01e38" stroke="none" stroke-width="0.5"/>
<circle cx="311.4" cy="355.5" r="1.7" fill="#b01e38" stroke="none" stroke-width="0.5"/>
<circle cx="309.4" cy="358.4" r="1.7" fill="#b01e38" stroke="none" stroke-width="0.5"/>
<circle cx="313.4" cy="359.3" r="1.7" fill="#b01e38" stroke="none" stroke-width="0.5"/>
<line x1="311.4" y1="364.0" x2="311.4" y2="365.2" stroke="#333" stroke-width="0.5"/>
<text x="251.0" y="316.5" font-size="5.6" text-anchor="middle" fill="#333" color="#333" transform="rotate(-90 251.0 316.5)">Number of binding CD8<tspan font-size="70%" dy="-1.4">+</tspan><tspan dy="1.4"> T cells per CAF</tspan></text>
<text x="290.2" y="369.7" font-size="5.55" text-anchor="end" fill="#333" color="#333" transform="rotate(-45 290.2 369.7)"><tspan font-style="italic">B2M</tspan>-NC</text>
<text x="314.4" y="369.7" font-size="5.55" text-anchor="end" fill="#333" color="#333" transform="rotate(-45 314.4 369.7)"><tspan font-style="italic">B2M</tspan>-KD</text>
<line x1="284.6" y1="276.7" x2="312.2" y2="276.7" stroke="#555" stroke-width="0.7"/>
<circle cx="284.6" cy="276.7" r="0.7" fill="#222" stroke="none" stroke-width="0.5"/>
<circle cx="312.2" cy="276.7" r="0.7" fill="#222" stroke="none" stroke-width="0.5"/>
<text x="298.6" y="278.1" font-size="6.4" text-anchor="middle" font-weight="bold" fill="#222" color="#222" letter-spacing="0.35">***</text>
<text x="336.5" y="261.0" font-size="12" font-weight="bold" fill="#000" color="#000" style="stroke-width:0.35px;stroke-opacity:0.6">G</text>
<line x1="358.8" y1="267.9" x2="358.8" y2="363.8" stroke="#222" stroke-width="0.85"/>
<line x1="358.4" y1="363.4" x2="420.4" y2="363.4" stroke="#222" stroke-width="0.85"/>
<line x1="357.2" y1="363.4" x2="358.8" y2="363.4" stroke="#333" stroke-width="0.6"/>
<text x="356.6" y="365.3" font-size="5.3" text-anchor="end" fill="#333" color="#333">55</text>
<line x1="357.2" y1="344.3" x2="358.8" y2="344.3" stroke="#333" stroke-width="0.6"/>
<text x="356.6" y="346.2" font-size="5.3" text-anchor="end" fill="#333" color="#333">60</text>
<line x1="357.2" y1="325.2" x2="358.8" y2="325.2" stroke="#333" stroke-width="0.6"/>
<text x="356.6" y="327.1" font-size="5.3" text-anchor="end" fill="#333" color="#333">65</text>
<line x1="357.2" y1="306.1" x2="358.8" y2="306.1" stroke="#333" stroke-width="0.6"/>
<text x="356.6" y="308.0" font-size="5.3" text-anchor="end" fill="#333" color="#333">70</text>
<line x1="357.2" y1="287.0" x2="358.8" y2="287.0" stroke="#333" stroke-width="0.6"/>
<text x="356.6" y="288.9" font-size="5.3" text-anchor="end" fill="#333" color="#333">75</text>
<line x1="357.2" y1="267.9" x2="358.8" y2="267.9" stroke="#333" stroke-width="0.6"/>
<text x="356.6" y="269.8" font-size="5.3" text-anchor="end" fill="#333" color="#333">80</text>
<rect x="368.5" y="342.4" width="17.3" height="21.0" fill="#bdc4d7" stroke="#2e3860" stroke-width="0.7"/>
<line x1="377.1" y1="335.5" x2="377.1" y2="348.9" stroke="#1c2550" stroke-width="0.8"/>
<line x1="373.3" y1="335.5" x2="381.0" y2="335.5" stroke="#1c2550" stroke-width="0.8"/>
<line x1="373.3" y1="348.9" x2="381.0" y2="348.9" stroke="#1c2550" stroke-width="0.8"/>
<circle cx="377.1" cy="334.0" r="1.7" fill="#1c2550" stroke="none" stroke-width="0.5"/>
<circle cx="374.1" cy="340.5" r="1.7" fill="#1c2550" stroke="none" stroke-width="0.5"/>
<circle cx="380.1" cy="342.8" r="1.7" fill="#1c2550" stroke="none" stroke-width="0.5"/>
<circle cx="377.1" cy="349.3" r="1.7" fill="#1c2550" stroke="none" stroke-width="0.5"/>
<line x1="377.1" y1="363.4" x2="377.1" y2="364.6" stroke="#333" stroke-width="0.5"/>
<rect x="395.4" y="297.3" width="17.3" height="66.1" fill="#f2c0c6" stroke="#c23a4c" stroke-width="0.7"/>
<line x1="404.0" y1="281.3" x2="404.0" y2="313.7" stroke="#b01e38" stroke-width="0.8"/>
<line x1="400.2" y1="281.3" x2="407.9" y2="281.3" stroke="#b01e38" stroke-width="0.8"/>
<line x1="400.2" y1="313.7" x2="407.9" y2="313.7" stroke="#b01e38" stroke-width="0.8"/>
<circle cx="402.0" cy="281.3" r="1.7" fill="#b01e38" stroke="none" stroke-width="0.5"/>
<circle cx="406.0" cy="281.3" r="1.7" fill="#b01e38" stroke="none" stroke-width="0.5"/>
<circle cx="404.0" cy="294.6" r="1.7" fill="#b01e38" stroke="none" stroke-width="0.5"/>
<circle cx="404.0" cy="305.3" r="1.7" fill="#b01e38" stroke="none" stroke-width="0.5"/>
<circle cx="404.0" cy="321.4" r="1.7" fill="#b01e38" stroke="none" stroke-width="0.5"/>
<line x1="404.0" y1="363.4" x2="404.0" y2="364.6" stroke="#333" stroke-width="0.5"/>
<text x="388.7" y="262.2" font-size="7.4" text-anchor="middle" fill="#111" color="#111">Perforin</text>
<text x="340.6" y="317.0" font-size="5.8" text-anchor="middle" fill="#333" color="#333" transform="rotate(-90 340.6 317.0)">Perforin<tspan font-size="70%" dy="-1.4">+</tspan><tspan dy="1.4"> CD8</tspan><tspan font-size="70%" dy="-1.4">+</tspan><tspan dy="1.4"> T cells/CD8</tspan><tspan font-size="70%" dy="-1.4">+</tspan><tspan dy="1.4"> T cells (%)</tspan></text>
<text x="380.9" y="370.8" font-size="5.55" text-anchor="end" fill="#333" color="#333" transform="rotate(-45 380.9 370.8)"><tspan font-style="italic">B2M</tspan>-NC</text>
<text x="407.8" y="370.8" font-size="5.55" text-anchor="end" fill="#333" color="#333" transform="rotate(-45 407.8 370.8)"><tspan font-style="italic">B2M</tspan>-KD</text>
<line x1="377.7" y1="273.7" x2="404.0" y2="273.7" stroke="#555" stroke-width="0.7"/>
<circle cx="377.7" cy="273.7" r="0.7" fill="#222" stroke="none" stroke-width="0.5"/>
<circle cx="404.0" cy="273.7" r="0.7" fill="#222" stroke="none" stroke-width="0.5"/>
<text x="391.1" y="275.1" font-size="6.4" text-anchor="middle" font-weight="bold" fill="#222" color="#222" letter-spacing="0.35">**</text>
<line x1="456.0" y1="268.7" x2="456.0" y2="362.9" stroke="#222" stroke-width="0.85"/>
<line x1="455.6" y1="362.5" x2="519.0" y2="362.5" stroke="#222" stroke-width="0.85"/>
<line x1="454.4" y1="362.5" x2="456.0" y2="362.5" stroke="#333" stroke-width="0.6"/>
<text x="453.8" y="364.4" font-size="5.3" text-anchor="end" fill="#333" color="#333">0</text>
<line x1="454.4" y1="343.7" x2="456.0" y2="343.7" stroke="#333" stroke-width="0.6"/>
<text x="453.8" y="345.6" font-size="5.3" text-anchor="end" fill="#333" color="#333">10</text>
<line x1="454.4" y1="325.0" x2="456.0" y2="325.0" stroke="#333" stroke-width="0.6"/>
<text x="453.8" y="326.9" font-size="5.3" text-anchor="end" fill="#333" color="#333">20</text>
<line x1="454.4" y1="306.2" x2="456.0" y2="306.2" stroke="#333" stroke-width="0.6"/>
<text x="453.8" y="308.1" font-size="5.3" text-anchor="end" fill="#333" color="#333">30</text>
<line x1="454.4" y1="287.5" x2="456.0" y2="287.5" stroke="#333" stroke-width="0.6"/>
<text x="453.8" y="289.4" font-size="5.3" text-anchor="end" fill="#333" color="#333">40</text>
<line x1="454.4" y1="268.7" x2="456.0" y2="268.7" stroke="#333" stroke-width="0.6"/>
<text x="453.8" y="270.6" font-size="5.3" text-anchor="end" fill="#333" color="#333">50</text>
<rect x="466.2" y="344.3" width="17.3" height="18.2" fill="#bdc4d7" stroke="#2e3860" stroke-width="0.7"/>
<line x1="474.9" y1="338.1" x2="474.9" y2="350.3" stroke="#1c2550" stroke-width="0.8"/>
<line x1="471.0" y1="338.1" x2="478.7" y2="338.1" stroke="#1c2550" stroke-width="0.8"/>
<line x1="471.0" y1="350.3" x2="478.7" y2="350.3" stroke="#1c2550" stroke-width="0.8"/>
<circle cx="477.9" cy="337.7" r="1.7" fill="#1c2550" stroke="none" stroke-width="0.5"/>
<circle cx="471.9" cy="338.5" r="1.7" fill="#1c2550" stroke="none" stroke-width="0.5"/>
<circle cx="471.9" cy="350.1" r="1.7" fill="#1c2550" stroke="none" stroke-width="0.5"/>
<circle cx="477.9" cy="350.9" r="1.7" fill="#1c2550" stroke="none" stroke-width="0.5"/>
<line x1="474.9" y1="362.5" x2="474.9" y2="363.7" stroke="#333" stroke-width="0.5"/>
<rect x="492.8" y="290.3" width="17.6" height="72.2" fill="#f2c0c6" stroke="#c23a4c" stroke-width="0.7"/>
<line x1="501.6" y1="276.2" x2="501.6" y2="304.3" stroke="#b01e38" stroke-width="0.8"/>
<line x1="497.7" y1="276.2" x2="505.5" y2="276.2" stroke="#b01e38" stroke-width="0.8"/>
<line x1="497.7" y1="304.3" x2="505.5" y2="304.3" stroke="#b01e38" stroke-width="0.8"/>
<circle cx="501.6" cy="276.2" r="1.7" fill="#b01e38" stroke="none" stroke-width="0.5"/>
<circle cx="501.6" cy="283.7" r="1.7" fill="#b01e38" stroke="none" stroke-width="0.5"/>
<circle cx="501.6" cy="292.1" r="1.7" fill="#b01e38" stroke="none" stroke-width="0.5"/>
<circle cx="501.6" cy="312.8" r="1.7" fill="#b01e38" stroke="none" stroke-width="0.5"/>
<line x1="501.6" y1="362.5" x2="501.6" y2="363.7" stroke="#333" stroke-width="0.5"/>
<text x="487.7" y="262.2" font-size="7.4" text-anchor="middle" fill="#111" color="#111">TCF1</text>
<text x="443.0" y="317.0" font-size="5.6" text-anchor="middle" fill="#333" color="#333" transform="rotate(-90 443.0 317.0)">TCF1<tspan font-size="70%" dy="-1.4">+</tspan><tspan dy="1.4"> CD8</tspan><tspan font-size="70%" dy="-1.4">+</tspan><tspan dy="1.4"> T cells/CD8</tspan><tspan font-size="70%" dy="-1.4">+</tspan><tspan dy="1.4"> T cells (%)</tspan></text>
<text x="479.1" y="369.7" font-size="5.55" text-anchor="end" fill="#333" color="#333" transform="rotate(-45 479.1 369.7)"><tspan font-style="italic">B2M</tspan>-NC</text>
<text x="507.2" y="369.7" font-size="5.55" text-anchor="end" fill="#333" color="#333" transform="rotate(-45 507.2 369.7)"><tspan font-style="italic">B2M</tspan>-KD</text>
<line x1="474.4" y1="270.8" x2="501.7" y2="270.8" stroke="#555" stroke-width="0.7"/>
<circle cx="474.4" cy="270.8" r="0.7" fill="#222" stroke="none" stroke-width="0.5"/>
<circle cx="501.7" cy="270.8" r="0.7" fill="#222" stroke="none" stroke-width="0.5"/>
<text x="488.2" y="272.2" font-size="6.4" text-anchor="middle" font-weight="bold" fill="#222" color="#222" letter-spacing="0.35">***</text>
<text x="1.5" y="408.2" font-size="12" font-weight="bold" fill="#000" color="#000" style="stroke-width:0.35px;stroke-opacity:0.6">H</text>
<line x1="37.3" y1="417.4" x2="37.3" y2="511.4" stroke="#222" stroke-width="0.85"/>
<line x1="36.9" y1="511.0" x2="94.5" y2="511.0" stroke="#222" stroke-width="0.85"/>
<line x1="35.7" y1="511.0" x2="37.3" y2="511.0" stroke="#333" stroke-width="0.6"/>
<text x="35.1" y="512.9" font-size="5.3" text-anchor="end" fill="#333" color="#333">0</text>
<line x1="35.7" y1="479.8" x2="37.3" y2="479.8" stroke="#333" stroke-width="0.6"/>
<text x="35.1" y="481.7" font-size="5.3" text-anchor="end" fill="#333" color="#333">5</text>
<line x1="35.7" y1="448.6" x2="37.3" y2="448.6" stroke="#333" stroke-width="0.6"/>
<text x="35.1" y="450.5" font-size="5.3" text-anchor="end" fill="#333" color="#333">10</text>
<line x1="35.7" y1="417.4" x2="37.3" y2="417.4" stroke="#333" stroke-width="0.6"/>
<text x="35.1" y="419.3" font-size="5.3" text-anchor="end" fill="#333" color="#333">15</text>
<rect x="46.2" y="435.5" width="17.4" height="75.5" fill="#bdc4d7" stroke="#2e3860" stroke-width="0.7"/>
<line x1="54.9" y1="431.8" x2="54.9" y2="439.2" stroke="#1c2550" stroke-width="0.8"/>
<line x1="51.1" y1="431.8" x2="58.7" y2="431.8" stroke="#1c2550" stroke-width="0.8"/>
<line x1="51.1" y1="439.2" x2="58.7" y2="439.2" stroke="#1c2550" stroke-width="0.8"/>
<circle cx="57.9" cy="430.5" r="1.7" fill="#1c2550" stroke="none" stroke-width="0.5"/>
<circle cx="52.9" cy="432.4" r="1.7" fill="#1c2550" stroke="none" stroke-width="0.5"/>
<circle cx="54.9" cy="434.2" r="1.7" fill="#1c2550" stroke="none" stroke-width="0.5"/>
<circle cx="51.9" cy="438.0" r="1.7" fill="#1c2550" stroke="none" stroke-width="0.5"/>
<circle cx="57.9" cy="438.6" r="1.7" fill="#1c2550" stroke="none" stroke-width="0.5"/>
<line x1="54.9" y1="511.0" x2="54.9" y2="512.2" stroke="#333" stroke-width="0.5"/>
<rect x="73.0" y="459.8" width="17.4" height="51.2" fill="#f2c0c6" stroke="#c23a4c" stroke-width="0.7"/>
<line x1="81.7" y1="452.3" x2="81.7" y2="465.4" stroke="#b01e38" stroke-width="0.8"/>
<line x1="77.9" y1="452.3" x2="85.5" y2="452.3" stroke="#b01e38" stroke-width="0.8"/>
<line x1="77.9" y1="465.4" x2="85.5" y2="465.4" stroke="#b01e38" stroke-width="0.8"/>
<circle cx="79.7" cy="451.7" r="1.7" fill="#b01e38" stroke="none" stroke-width="0.5"/>
<circle cx="84.7" cy="453.6" r="1.7" fill="#b01e38" stroke="none" stroke-width="0.5"/>
<circle cx="78.7" cy="459.2" r="1.7" fill="#b01e38" stroke="none" stroke-width="0.5"/>
<circle cx="84.7" cy="461.7" r="1.7" fill="#b01e38" stroke="none" stroke-width="0.5"/>
<circle cx="81.7" cy="464.2" r="1.7" fill="#b01e38" stroke="none" stroke-width="0.5"/>
<circle cx="81.7" cy="467.3" r="1.7" fill="#b01e38" stroke="none" stroke-width="0.5"/>
<line x1="81.7" y1="511.0" x2="81.7" y2="512.2" stroke="#333" stroke-width="0.5"/>
<text x="65.8" y="406.3" font-size="7.4" text-anchor="middle" fill="#111" color="#111">TIGIT</text>
<text x="25.0" y="468.5" font-size="5.5" text-anchor="middle" fill="#333" color="#333" transform="rotate(-90 25.0 468.5)">TIGIT<tspan font-size="70%" dy="-1.4">+</tspan><tspan dy="1.4"> CD8</tspan><tspan font-size="70%" dy="-1.4">+</tspan><tspan dy="1.4"> T cells/CD8</tspan><tspan font-size="70%" dy="-1.4">+</tspan><tspan dy="1.4"> T cells (%)</tspan></text>
<text x="58.4" y="518.5" font-size="5.55" text-anchor="end" fill="#333" color="#333" transform="rotate(-45 58.4 518.5)"><tspan font-style="italic">B2M</tspan>-NC</text>
<text x="83.4" y="518.5" font-size="5.55" text-anchor="end" fill="#333" color="#333" transform="rotate(-45 83.4 518.5)"><tspan font-style="italic">B2M</tspan>-KD</text>
<line x1="55.8" y1="425.8" x2="80.8" y2="425.8" stroke="#555" stroke-width="0.7"/>
<circle cx="55.8" cy="425.8" r="0.7" fill="#222" stroke="none" stroke-width="0.5"/>
<circle cx="80.8" cy="425.8" r="0.7" fill="#222" stroke="none" stroke-width="0.5"/>
<text x="68.5" y="427.2" font-size="6.4" text-anchor="middle" font-weight="bold" fill="#222" color="#222" letter-spacing="0.35">***</text>
<text x="126.3" y="408.0" font-size="12" font-weight="bold" fill="#000" color="#000" style="stroke-width:0.35px;stroke-opacity:0.6">I</text>
<g transform="translate(139.3 416.8) scale(1.1)" fill="#1d2b5a"><circle cx="0" cy="2.2" r="2.3"/><path d="M-3.4,5.2 Q-3.4,4.6 -2.6,4.6 L2.6,4.6 Q3.4,4.6 3.4,5.2 L3.4,13.5 L1.9,13.5 L1.9,22.5 L-1.9,22.5 L-1.9,13.5 L-3.4,13.5 Z"/></g>
<line x1="145.8" y1="429.2" x2="160.3" y2="429.2" stroke="#333" stroke-width="0.55"/>
<polygon points="162.5,429.2 160.3,430.2 160.3,428.2" fill="#333"/>
<circle cx="169.5" cy="429.2" r="4.8" fill="#fde19a" stroke="#f0c060" stroke-width="0.8"/>
<text x="169.5" y="440.8" font-size="5.6" text-anchor="middle" fill="#222" color="#222">Tumoral tissues</text>
<line x1="170.0" y1="443.3" x2="170.0" y2="449.6" stroke="#333" stroke-width="0.55"/>
<polygon points="170.0,451.8 169.0,449.6 171.0,449.6" fill="#333"/>
<circle cx="169.8" cy="454.8" r="1.2" fill="#f2c2c4" stroke="#e0a0a8" stroke-width="0.3"/>
<circle cx="167.6" cy="458.3" r="1.2" fill="#f2c2c4" stroke="#e0a0a8" stroke-width="0.3"/>
<circle cx="172.3" cy="457.8" r="1.2" fill="#f2c2c4" stroke="#e0a0a8" stroke-width="0.3"/>
<text x="163.0" y="458.8" font-size="5.6" text-anchor="end" fill="#222" color="#222">CD8<tspan font-size="70%" dy="-1.5">+</tspan><tspan dy="1.5"> cells</tspan></text>
<line x1="170.0" y1="460.8" x2="170.0" y2="467.1" stroke="#333" stroke-width="0.55"/>
<polygon points="170.0,469.3 169.0,467.1 171.0,467.1" fill="#333"/>
<path d="M161,474 L161,482.5 A9.1,2.4 0 0 0 179.2,482.5 L179.2,474 Z" fill="#fbf3dc" stroke="#8a8fa6" stroke-width="0.5"/>
<path d="M161.2,478.2 L161.2,482.5 A8.9,2.3 0 0 0 179,482.5 L179,478.2 A8.9,1.8 0 0 1 161.2,478.2 Z" fill="#f2c040"/>
<path d="M161.2,478.2 A8.9,1.8 0 0 0 179,478.2" fill="none" stroke="#e0a020" stroke-width="0.6"/>
<ellipse cx="170.1" cy="474" rx="9.1" ry="2.2" fill="#fffaf0" stroke="#8a8fa6" stroke-width="0.5"/>
<line x1="164.0" y1="480.8" x2="176.5" y2="480.8" stroke="#e89a30" stroke-width="0.6"/>
<text x="158.5" y="482.0" font-size="5.6" text-anchor="end" fill="#222" color="#222">CD3/CD28</text>
<line x1="170.0" y1="485.5" x2="170.0" y2="495.8" stroke="#333" stroke-width="0.55"/>
<polygon points="170.0,498.0 169.0,495.8 171.0,495.8" fill="#333"/>
<text x="170.0" y="505.5" font-size="5.6" text-anchor="middle" fill="#222" color="#222">Western blotting</text>
<text x="170.0" y="514.7" font-size="5.6" text-anchor="middle" fill="#222" color="#222">RT-qPCR</text>
<text x="228.8" y="408.2" font-size="12" font-weight="bold" fill="#000" color="#000" style="stroke-width:0.35px;stroke-opacity:0.6">J</text>
<defs><linearGradient id="smearA" x1="0" x2="0" y1="0" y2="1"><stop offset="0" stop-color="#404050" stop-opacity="0.55"/><stop offset="0.4" stop-color="#606070" stop-opacity="0.3"/><stop offset="1" stop-color="#808090" stop-opacity="0.05"/></linearGradient><linearGradient id="smearB" x1="0" x2="0" y1="0" y2="1"><stop offset="0" stop-color="#303040" stop-opacity="0.6"/><stop offset="0.3" stop-color="#606070" stop-opacity="0.25"/><stop offset="1" stop-color="#808090" stop-opacity="0.04"/></linearGradient></defs>
<rect x="238.9" y="427.9" width="40.3" height="52.8" fill="#dddce4" stroke="#8a8a94" stroke-width="0.7"/>
<rect x="238.9" y="482.2" width="40.3" height="12.3" fill="#dddce4" stroke="#8a8a94" stroke-width="0.7"/>
<g filter="url(#blur1)"><rect x="243.6" y="448" width="12.4" height="30" fill="url(#smearA)"/><rect x="261.2" y="443" width="13.2" height="34" fill="url(#smearB)"/><path d="M242.6,437 Q242.6,434 246.5,434 L253.5,434 Q257.2,434 257.2,437 L256.2,446 Q255.6,449.5 251.5,449.5 L247.5,449.5 Q243.6,449.5 243.4,446 Z" fill="#050508"/><rect x="243.6" y="451.6" width="12.4" height="2.6" rx="1" fill="#50505e" opacity="0.75"/><rect x="244" y="457" width="11.5" height="2" fill="#70707e" opacity="0.4"/><rect x="244" y="466.3" width="11.5" height="1.6" fill="#70707e" opacity="0.45"/><rect x="244" y="474.8" width="11.5" height="1.4" fill="#80808e" opacity="0.35"/><rect x="261.2" y="435.6" width="13.4" height="3.0" rx="1.2" fill="#0a0a12"/><rect x="261.2" y="440.4" width="13.4" height="3.0" rx="1.2" fill="#0a0a12"/><rect x="261.2" y="438" width="13.4" height="3" fill="#303040" opacity="0.7"/><rect x="262" y="443.8" width="12" height="3" rx="1.2" fill="#50505e" opacity="0.5"/><rect x="242.8" y="485.6" width="14.6" height="5.8" rx="2.9" fill="#050508"/><rect x="260.3" y="485.6" width="15.6" height="5.8" rx="2.9" fill="#050508"/></g>
<line x1="279.6" y1="430.0" x2="283.0" y2="430.0" stroke="#333" stroke-width="0.6"/>
<text x="283.8" y="432.0" font-size="5.6" fill="#222" color="#222">55 kDa</text>
<line x1="279.6" y1="453.8" x2="283.0" y2="453.8" stroke="#333" stroke-width="0.6"/>
<text x="283.8" y="455.8" font-size="5.6" fill="#222" color="#222">45 kDa</text>
<line x1="279.6" y1="493.8" x2="283.0" y2="493.8" stroke="#333" stroke-width="0.6"/>
<text x="283.8" y="495.8" font-size="5.6" fill="#222" color="#222">15 kDa</text>
<text x="236.3" y="456.5" font-size="5.6" text-anchor="end" fill="#222" color="#222">Anti-TCF1</text>
<text x="236.3" y="490.0" font-size="5.6" text-anchor="end" fill="#222" color="#222">Anti-Histone H3</text>
<text x="252.5" y="499.5" font-size="5.4" text-anchor="end" fill="#222" color="#222" transform="rotate(-45 252.5 499.5)">Control</text>
<text x="271.5" y="499.5" font-size="5.4" text-anchor="end" fill="#222" color="#222" transform="rotate(-45 271.5 499.5)">Anti-CD3/CD28</text>
<text x="316.8" y="408.2" font-size="12" font-weight="bold" fill="#000" color="#000" style="stroke-width:0.35px;stroke-opacity:0.6">K</text>
<line x1="345.0" y1="419.4" x2="345.0" y2="511.9" stroke="#222" stroke-width="0.85"/>
<line x1="344.6" y1="511.5" x2="408.0" y2="511.5" stroke="#222" stroke-width="0.85"/>
<line x1="343.4" y1="511.5" x2="345.0" y2="511.5" stroke="#333" stroke-width="0.6"/>
<text x="342.8" y="513.4" font-size="5.3" text-anchor="end" fill="#333" color="#333">0.0</text>
<line x1="343.4" y1="480.8" x2="345.0" y2="480.8" stroke="#333" stroke-width="0.6"/>
<text x="342.8" y="482.7" font-size="5.3" text-anchor="end" fill="#333" color="#333">2.0</text>
<line x1="343.4" y1="450.1" x2="345.0" y2="450.1" stroke="#333" stroke-width="0.6"/>
<text x="342.8" y="452.0" font-size="5.3" text-anchor="end" fill="#333" color="#333">4.0</text>
<line x1="343.4" y1="419.4" x2="345.0" y2="419.4" stroke="#333" stroke-width="0.6"/>
<text x="342.8" y="421.3" font-size="5.3" text-anchor="end" fill="#333" color="#333">6.0</text>
<rect x="355.4" y="495.4" width="17.6" height="16.1" fill="#bdc4d7" stroke="#2e3860" stroke-width="0.7"/>
<line x1="364.2" y1="487.7" x2="364.2" y2="503.1" stroke="#1c2550" stroke-width="0.8"/>
<line x1="360.3" y1="487.7" x2="368.1" y2="487.7" stroke="#1c2550" stroke-width="0.8"/>
<line x1="360.3" y1="503.1" x2="368.1" y2="503.1" stroke="#1c2550" stroke-width="0.8"/>
<circle cx="364.2" cy="486.9" r="1.7" fill="#1c2550" stroke="none" stroke-width="0.5"/>
<circle cx="364.2" cy="492.3" r="1.7" fill="#1c2550" stroke="none" stroke-width="0.5"/>
<circle cx="361.2" cy="500.8" r="1.7" fill="#1c2550" stroke="none" stroke-width="0.5"/>
<circle cx="367.2" cy="500.8" r="1.7" fill="#1c2550" stroke="none" stroke-width="0.5"/>
<line x1="364.2" y1="511.5" x2="364.2" y2="512.7" stroke="#333" stroke-width="0.5"/>
<rect x="382.1" y="444.4" width="17.3" height="67.1" fill="#f2c0c6" stroke="#c23a4c" stroke-width="0.7"/>
<line x1="390.8" y1="434.0" x2="390.8" y2="454.7" stroke="#b01e38" stroke-width="0.8"/>
<line x1="386.9" y1="434.0" x2="394.6" y2="434.0" stroke="#b01e38" stroke-width="0.8"/>
<line x1="386.9" y1="454.7" x2="394.6" y2="454.7" stroke="#b01e38" stroke-width="0.8"/>
<circle cx="390.8" cy="433.2" r="1.7" fill="#b01e38" stroke="none" stroke-width="0.5"/>
<circle cx="390.8" cy="439.4" r="1.7" fill="#b01e38" stroke="none" stroke-width="0.5"/>
<circle cx="387.8" cy="450.1" r="1.7" fill="#b01e38" stroke="none" stroke-width="0.5"/>
<circle cx="393.8" cy="450.9" r="1.7" fill="#b01e38" stroke="none" stroke-width="0.5"/>
<line x1="390.8" y1="511.5" x2="390.8" y2="512.7" stroke="#333" stroke-width="0.5"/>
<text x="375.7" y="412.5" font-size="7.4" text-anchor="middle" font-style="italic" fill="#111" color="#111">CXCR3</text>
<text x="369.2" y="520.1" font-size="5.55" text-anchor="end" fill="#333" color="#333" transform="rotate(-45 369.2 520.1)">Control</text>
<text x="401.2" y="519.4" font-size="5.55" text-anchor="end" fill="#333" color="#333" transform="rotate(-45 401.2 519.4)">Anti-CD3/CD28</text>
<text x="325.0" y="466.0" font-size="5.75" text-anchor="middle" fill="#333" color="#333" transform="rotate(-90 325.0 466.0)">Relative mRNA expression</text>
<text x="330.8" y="466.5" font-size="5.75" text-anchor="middle" fill="#333" color="#333" transform="rotate(-90 330.8 466.5)">(fold change)</text>
<line x1="364.5" y1="422.5" x2="391.0" y2="422.5" stroke="#555" stroke-width="0.7"/>
<circle cx="364.5" cy="422.5" r="0.7" fill="#222" stroke="none" stroke-width="0.5"/>
<circle cx="391.0" cy="422.5" r="0.7" fill="#222" stroke="none" stroke-width="0.5"/>
<text x="377.9" y="423.9" font-size="6.4" text-anchor="middle" font-weight="bold" fill="#222" color="#222" letter-spacing="0.35">***</text>
<line x1="450.2" y1="419.2" x2="450.2" y2="511.7" stroke="#222" stroke-width="0.85"/>
<line x1="449.8" y1="511.3" x2="513.7" y2="511.3" stroke="#222" stroke-width="0.85"/>
<line x1="448.6" y1="511.3" x2="450.2" y2="511.3" stroke="#333" stroke-width="0.6"/>
<text x="448.0" y="513.2" font-size="5.3" text-anchor="end" fill="#333" color="#333">0.0</text>
<line x1="448.6" y1="480.6" x2="450.2" y2="480.6" stroke="#333" stroke-width="0.6"/>
<text x="448.0" y="482.5" font-size="5.3" text-anchor="end" fill="#333" color="#333">0.5</text>
<line x1="448.6" y1="449.9" x2="450.2" y2="449.9" stroke="#333" stroke-width="0.6"/>
<text x="448.0" y="451.8" font-size="5.3" text-anchor="end" fill="#333" color="#333">1.0</text>
<line x1="448.6" y1="419.2" x2="450.2" y2="419.2" stroke="#333" stroke-width="0.6"/>
<text x="448.0" y="421.1" font-size="5.3" text-anchor="end" fill="#333" color="#333">1.5</text>
<rect x="460.1" y="449.9" width="17.2" height="61.4" fill="#bdc4d7" stroke="#2e3860" stroke-width="0.7"/>
<line x1="468.7" y1="441.3" x2="468.7" y2="458.5" stroke="#1c2550" stroke-width="0.8"/>
<line x1="464.9" y1="441.3" x2="472.5" y2="441.3" stroke="#1c2550" stroke-width="0.8"/>
<line x1="464.9" y1="458.5" x2="472.5" y2="458.5" stroke="#1c2550" stroke-width="0.8"/>
<circle cx="465.7" cy="442.5" r="1.7" fill="#1c2550" stroke="none" stroke-width="0.5"/>
<circle cx="471.7" cy="442.5" r="1.7" fill="#1c2550" stroke="none" stroke-width="0.5"/>
<circle cx="468.7" cy="451.1" r="1.7" fill="#1c2550" stroke="none" stroke-width="0.5"/>
<circle cx="468.7" cy="461.0" r="1.7" fill="#1c2550" stroke="none" stroke-width="0.5"/>
<line x1="468.7" y1="511.3" x2="468.7" y2="512.5" stroke="#333" stroke-width="0.5"/>
<rect x="486.2" y="457.9" width="17.5" height="53.4" fill="#f2c0c6" stroke="#c23a4c" stroke-width="0.7"/>
<line x1="494.9" y1="456.0" x2="494.9" y2="459.1" stroke="#b01e38" stroke-width="0.8"/>
<line x1="491.1" y1="456.0" x2="498.8" y2="456.0" stroke="#b01e38" stroke-width="0.8"/>
<line x1="491.1" y1="459.1" x2="498.8" y2="459.1" stroke="#b01e38" stroke-width="0.8"/>
<circle cx="494.9" cy="456.0" r="1.7" fill="#b01e38" stroke="none" stroke-width="0.5"/>
<circle cx="491.9" cy="457.9" r="1.7" fill="#b01e38" stroke="none" stroke-width="0.5"/>
<circle cx="497.9" cy="458.2" r="1.7" fill="#b01e38" stroke="none" stroke-width="0.5"/>
<line x1="494.9" y1="511.3" x2="494.9" y2="512.5" stroke="#333" stroke-width="0.5"/>
<text x="480.9" y="412.5" font-size="7.4" text-anchor="middle" font-style="italic" fill="#111" color="#111">CXCR4</text>
<text x="474.5" y="519.4" font-size="5.55" text-anchor="end" fill="#333" color="#333" transform="rotate(-45 474.5 519.4)">Control</text>
<text x="505.5" y="519.4" font-size="5.55" text-anchor="end" fill="#333" color="#333" transform="rotate(-45 505.5 519.4)">Anti-CD3/CD28</text>
<text x="429.2" y="466.8" font-size="5.75" text-anchor="middle" fill="#333" color="#333" transform="rotate(-90 429.2 466.8)">Relative mRNA expression</text>
<text x="435.2" y="466.8" font-size="5.75" text-anchor="middle" fill="#333" color="#333" transform="rotate(-90 435.2 466.8)">(fold change)</text>
<line x1="468.2" y1="433.7" x2="495.7" y2="433.7" stroke="#555" stroke-width="0.7"/>
<circle cx="468.2" cy="433.7" r="0.7" fill="#222" stroke="none" stroke-width="0.5"/>
<circle cx="495.7" cy="433.7" r="0.7" fill="#222" stroke="none" stroke-width="0.5"/>
<text x="481.9" y="433.1" font-size="5.5" text-anchor="middle" fill="#333" color="#333"></text>
<text x="481.8" y="433.0" font-size="6.8" text-anchor="middle" fill="#222" color="#222">ns</text>
</svg>
</body></html>
